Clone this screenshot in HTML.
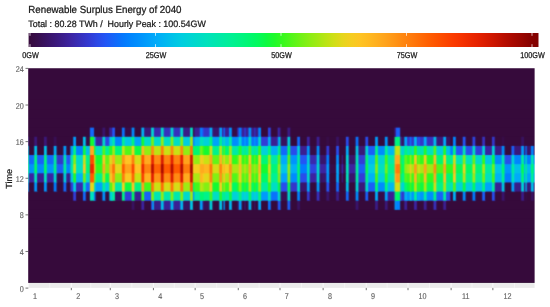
<!DOCTYPE html>
<html lang="en"><head><meta charset="utf-8"><title>Renewable Surplus Energy of 2040</title>
<style>html,body{margin:0;padding:0;background:#fff}body{width:550px;height:307px;overflow:hidden}svg{display:block}text{font-family:"Liberation Sans",Arial,Helvetica,sans-serif;text-rendering:geometricPrecision}</style></head><body>
<svg width="550" height="307" viewBox="0 0 550 307">
<defs><linearGradient id="tb" x1="0" x2="1" y1="0" y2="0">
<stop offset="0.000" stop-color="#360a3b"/>
<stop offset="0.017" stop-color="#370e4c"/>
<stop offset="0.033" stop-color="#381261"/>
<stop offset="0.050" stop-color="#3a1776"/>
<stop offset="0.067" stop-color="#3b1d8c"/>
<stop offset="0.083" stop-color="#3c24a3"/>
<stop offset="0.100" stop-color="#372fba"/>
<stop offset="0.117" stop-color="#3339d1"/>
<stop offset="0.133" stop-color="#2c47e4"/>
<stop offset="0.150" stop-color="#2355f5"/>
<stop offset="0.167" stop-color="#1566f9"/>
<stop offset="0.183" stop-color="#0676fd"/>
<stop offset="0.200" stop-color="#0085fe"/>
<stop offset="0.217" stop-color="#0091fd"/>
<stop offset="0.233" stop-color="#009efb"/>
<stop offset="0.250" stop-color="#00abf9"/>
<stop offset="0.267" stop-color="#00b7f1"/>
<stop offset="0.283" stop-color="#00c3e8"/>
<stop offset="0.300" stop-color="#00cee0"/>
<stop offset="0.317" stop-color="#00d5d4"/>
<stop offset="0.333" stop-color="#00dbc8"/>
<stop offset="0.350" stop-color="#00e2bc"/>
<stop offset="0.367" stop-color="#00e7ae"/>
<stop offset="0.383" stop-color="#00eca1"/>
<stop offset="0.400" stop-color="#00f192"/>
<stop offset="0.417" stop-color="#00f482"/>
<stop offset="0.433" stop-color="#00f771"/>
<stop offset="0.450" stop-color="#03fa5d"/>
<stop offset="0.467" stop-color="#0efa41"/>
<stop offset="0.483" stop-color="#20fa2a"/>
<stop offset="0.500" stop-color="#3af91d"/>
<stop offset="0.517" stop-color="#55f61a"/>
<stop offset="0.533" stop-color="#70f216"/>
<stop offset="0.550" stop-color="#8aee14"/>
<stop offset="0.567" stop-color="#a2e914"/>
<stop offset="0.583" stop-color="#bae414"/>
<stop offset="0.600" stop-color="#d1de16"/>
<stop offset="0.617" stop-color="#e7d51c"/>
<stop offset="0.633" stop-color="#f5cd20"/>
<stop offset="0.650" stop-color="#fec423"/>
<stop offset="0.667" stop-color="#ffba21"/>
<stop offset="0.683" stop-color="#ffaf1f"/>
<stop offset="0.700" stop-color="#ffa31c"/>
<stop offset="0.717" stop-color="#ff9616"/>
<stop offset="0.733" stop-color="#ff8811"/>
<stop offset="0.750" stop-color="#ff7b0c"/>
<stop offset="0.767" stop-color="#ff6d07"/>
<stop offset="0.783" stop-color="#ff6002"/>
<stop offset="0.800" stop-color="#fe5300"/>
<stop offset="0.817" stop-color="#fc4700"/>
<stop offset="0.833" stop-color="#fb3b00"/>
<stop offset="0.850" stop-color="#f53200"/>
<stop offset="0.867" stop-color="#ec2900"/>
<stop offset="0.883" stop-color="#e42100"/>
<stop offset="0.900" stop-color="#d71a00"/>
<stop offset="0.917" stop-color="#c81400"/>
<stop offset="0.933" stop-color="#b80e00"/>
<stop offset="0.950" stop-color="#a90900"/>
<stop offset="0.967" stop-color="#990600"/>
<stop offset="0.983" stop-color="#890200"/>
<stop offset="1.000" stop-color="#800000"/>
</linearGradient>
<clipPath id="pc"><rect x="28.20" y="68.26" width="506.40" height="219.64"/></clipPath>
<filter id="bl" x="-2%" y="-5%" width="104%" height="110%" color-interpolation-filters="sRGB"><feConvolveMatrix order="3" kernelMatrix="0.03000 0.09000 0.03000 0.14000 0.42000 0.14000 0.03000 0.09000 0.03000" edgeMode="duplicate" preserveAlpha="true"/></filter>
</defs>
<rect width="550" height="307" fill="#fff"/>
<text transform="translate(28.30 12.50) scale(0.0974 0.1023)" font-size="100" fill="#161616" stroke="#161616" stroke-width="2.3">Renewable Surplus Energy of 2040</text>
<text transform="translate(28.30 27.20) scale(0.0888 0.0932)" font-size="100" fill="#161616" stroke="#161616" stroke-width="2.5" xml:space="preserve">Total : 80.28 TWh /  Hourly Peak : 100.54GW</text>
<rect x="28.60" y="33.00" width="509.90" height="14.00" fill="url(#tb)"/>
<path d="M30.00 33.00v2.8M30.00 47.00v-2.8" stroke="#fff" stroke-width="0.7" fill="none"/>
<text transform="translate(30.50 58.40) scale(0.0718 0.0840)" font-size="100" fill="#161616" text-anchor="middle" stroke="#161616" stroke-width="3.1">0GW</text>
<path d="M155.50 33.00v2.8M155.50 47.00v-2.8" stroke="#fff" stroke-width="0.7" fill="none"/>
<text transform="translate(156.00 58.40) scale(0.0718 0.0840)" font-size="100" fill="#161616" text-anchor="middle" stroke="#161616" stroke-width="3.1">25GW</text>
<path d="M281.00 33.00v2.8M281.00 47.00v-2.8" stroke="#fff" stroke-width="0.7" fill="none"/>
<text transform="translate(281.50 58.40) scale(0.0718 0.0840)" font-size="100" fill="#161616" text-anchor="middle" stroke="#161616" stroke-width="3.1">50GW</text>
<path d="M406.50 33.00v2.8M406.50 47.00v-2.8" stroke="#fff" stroke-width="0.7" fill="none"/>
<text transform="translate(407.00 58.40) scale(0.0718 0.0840)" font-size="100" fill="#161616" text-anchor="middle" stroke="#161616" stroke-width="3.1">75GW</text>
<path d="M532.00 33.00v2.8M532.00 47.00v-2.8" stroke="#fff" stroke-width="0.7" fill="none"/>
<text transform="translate(532.50 58.40) scale(0.0718 0.0840)" font-size="100" fill="#161616" text-anchor="middle" stroke="#161616" stroke-width="3.1">100GW</text>
<rect x="28.20" y="68.26" width="506.40" height="219.64" fill="#ebebeb"/>
<path d="M28.20 68.26V287.90M71.33 68.26V287.90M110.28 68.26V287.90M153.41 68.26V287.90M195.15 68.26V287.90M238.27 68.26V287.90M280.01 68.26V287.90M323.14 68.26V287.90M366.26 68.26V287.90M408.00 68.26V287.90M451.13 68.26V287.90M492.86 68.26V287.90" stroke="#fff" stroke-width="0.7" fill="none"/>
<path d="M49.76 68.26V287.90M90.80 68.26V287.90M131.85 68.26V287.90M174.28 68.26V287.90M216.71 68.26V287.90M259.14 68.26V287.90M301.57 68.26V287.90M344.70 68.26V287.90M387.13 68.26V287.90M429.56 68.26V287.90M472.00 68.26V287.90M514.43 68.26V287.90" stroke="#fff" stroke-width="0.45" fill="none"/>
<g clip-path="url(#pc)"><g filter="url(#bl)">
<rect x="25.20" y="65.26" width="512.40" height="217.63" fill="#360a3b"/>
<rect x="24.30" y="227.39" width="514.59" height="9.83" fill="#360a3b"/>
<rect x="24.30" y="218.25" width="514.59" height="9.83" fill="#360a3b"/>
<rect x="24.30" y="209.12" width="514.59" height="9.83" fill="#360a3b"/>
<rect x="24.30" y="199.99" width="108.14" height="9.83" fill="#360a3b"/>
<rect x="131.65" y="199.99" width="3.58" height="9.83" fill="#381260"/>
<rect x="134.43" y="199.99" width="7.76" height="9.83" fill="#360a3b"/>
<rect x="141.38" y="199.99" width="3.58" height="9.83" fill="#3c23a0"/>
<rect x="144.17" y="199.99" width="7.76" height="9.83" fill="#360a3b"/>
<rect x="151.12" y="199.99" width="2.19" height="9.83" fill="#284deb"/>
<rect x="152.51" y="199.99" width="2.19" height="9.83" fill="#00b1f5"/>
<rect x="153.90" y="199.99" width="7.76" height="9.83" fill="#3a1c86"/>
<rect x="160.86" y="199.99" width="3.58" height="9.83" fill="#00bfeb"/>
<rect x="163.64" y="199.99" width="7.76" height="9.83" fill="#3b1f93"/>
<rect x="170.60" y="199.99" width="3.58" height="9.83" fill="#00b8f0"/>
<rect x="173.38" y="199.99" width="7.76" height="9.83" fill="#3b1f93"/>
<rect x="180.34" y="199.99" width="3.58" height="9.83" fill="#00b8f0"/>
<rect x="183.12" y="199.99" width="7.76" height="9.83" fill="#381260"/>
<rect x="190.08" y="199.99" width="3.58" height="9.83" fill="#00c6e6"/>
<rect x="192.86" y="199.99" width="7.76" height="9.83" fill="#360a3b"/>
<rect x="199.81" y="199.99" width="3.58" height="9.83" fill="#00a2fb"/>
<rect x="202.60" y="199.99" width="2.19" height="9.83" fill="#39146c"/>
<rect x="203.99" y="199.99" width="6.36" height="9.83" fill="#380f54"/>
<rect x="209.55" y="199.99" width="3.58" height="9.83" fill="#00d1da"/>
<rect x="212.34" y="199.99" width="7.76" height="9.83" fill="#360a3b"/>
<rect x="219.29" y="199.99" width="3.58" height="9.83" fill="#00c6e6"/>
<rect x="222.07" y="199.99" width="2.19" height="9.83" fill="#360a3b"/>
<rect x="223.46" y="199.99" width="2.19" height="9.83" fill="#0094fc"/>
<rect x="224.86" y="199.99" width="4.97" height="9.83" fill="#360a3b"/>
<rect x="229.03" y="199.99" width="3.58" height="9.83" fill="#00b8f0"/>
<rect x="231.81" y="199.99" width="6.36" height="9.83" fill="#360a3b"/>
<rect x="237.38" y="199.99" width="2.19" height="9.83" fill="#381260"/>
<rect x="238.77" y="199.99" width="3.58" height="9.83" fill="#00a2fb"/>
<rect x="241.55" y="199.99" width="3.58" height="9.83" fill="#360a3b"/>
<rect x="244.33" y="199.99" width="2.19" height="9.83" fill="#39146c"/>
<rect x="245.72" y="199.99" width="3.58" height="9.83" fill="#360a3b"/>
<rect x="248.51" y="199.99" width="3.58" height="9.83" fill="#00b8f0"/>
<rect x="251.29" y="199.99" width="3.58" height="9.83" fill="#360a3b"/>
<rect x="254.07" y="199.99" width="2.19" height="9.83" fill="#381260"/>
<rect x="255.46" y="199.99" width="3.58" height="9.83" fill="#360a3b"/>
<rect x="258.25" y="199.99" width="3.58" height="9.83" fill="#00aafa"/>
<rect x="261.03" y="199.99" width="7.76" height="9.83" fill="#360a3b"/>
<rect x="267.98" y="199.99" width="3.58" height="9.83" fill="#0973fc"/>
<rect x="270.77" y="199.99" width="7.76" height="9.83" fill="#360a3b"/>
<rect x="277.72" y="199.99" width="2.19" height="9.83" fill="#284deb"/>
<rect x="279.11" y="199.99" width="2.19" height="9.83" fill="#1269fa"/>
<rect x="280.50" y="199.99" width="7.76" height="9.83" fill="#360a3b"/>
<rect x="287.46" y="199.99" width="3.58" height="9.83" fill="#1a5ff8"/>
<rect x="290.24" y="199.99" width="7.76" height="9.83" fill="#360a3b"/>
<rect x="297.20" y="199.99" width="3.58" height="9.83" fill="#381260"/>
<rect x="299.98" y="199.99" width="56.45" height="9.83" fill="#360a3b"/>
<rect x="355.63" y="199.99" width="3.58" height="9.83" fill="#39146c"/>
<rect x="358.41" y="199.99" width="17.49" height="9.83" fill="#360a3b"/>
<rect x="375.11" y="199.99" width="3.58" height="9.83" fill="#3a1c86"/>
<rect x="377.89" y="199.99" width="7.76" height="9.83" fill="#360a3b"/>
<rect x="384.85" y="199.99" width="3.58" height="9.83" fill="#3a1879"/>
<rect x="387.63" y="199.99" width="7.76" height="9.83" fill="#360a3b"/>
<rect x="394.58" y="199.99" width="2.19" height="9.83" fill="#009bfc"/>
<rect x="395.97" y="199.99" width="4.97" height="9.83" fill="#0084fe"/>
<rect x="400.15" y="199.99" width="4.97" height="9.83" fill="#360a3b"/>
<rect x="404.32" y="199.99" width="3.58" height="9.83" fill="#3b1f93"/>
<rect x="407.10" y="199.99" width="7.76" height="9.83" fill="#360a3b"/>
<rect x="414.06" y="199.99" width="3.58" height="9.83" fill="#3c23a0"/>
<rect x="416.84" y="199.99" width="7.76" height="9.83" fill="#360a3b"/>
<rect x="423.80" y="199.99" width="3.58" height="9.83" fill="#3b1f93"/>
<rect x="426.58" y="199.99" width="7.76" height="9.83" fill="#360a3b"/>
<rect x="433.54" y="199.99" width="3.58" height="9.83" fill="#3730bc"/>
<rect x="436.32" y="199.99" width="7.76" height="9.83" fill="#360a3b"/>
<rect x="443.28" y="199.99" width="3.58" height="9.83" fill="#3b1f93"/>
<rect x="446.06" y="199.99" width="92.84" height="9.83" fill="#360a3b"/>
<rect x="24.30" y="190.85" width="49.71" height="9.83" fill="#360a3b"/>
<rect x="73.21" y="190.85" width="3.58" height="9.83" fill="#323cd7"/>
<rect x="76.00" y="190.85" width="7.76" height="9.83" fill="#360a3b"/>
<rect x="82.95" y="190.85" width="3.58" height="9.83" fill="#1269fa"/>
<rect x="85.74" y="190.85" width="4.97" height="9.83" fill="#360a3b"/>
<rect x="89.91" y="190.85" width="4.97" height="9.83" fill="#00e1be"/>
<rect x="94.08" y="190.85" width="2.19" height="9.83" fill="#0973fc"/>
<rect x="95.47" y="190.85" width="7.76" height="9.83" fill="#360a3b"/>
<rect x="102.43" y="190.85" width="3.58" height="9.83" fill="#0094fc"/>
<rect x="105.21" y="190.85" width="4.97" height="9.83" fill="#360a3b"/>
<rect x="109.39" y="190.85" width="2.19" height="9.83" fill="#00d5d3"/>
<rect x="110.78" y="190.85" width="2.19" height="9.83" fill="#00cde1"/>
<rect x="112.17" y="190.85" width="3.58" height="9.83" fill="#00ed9e"/>
<rect x="114.95" y="190.85" width="7.76" height="9.83" fill="#381260"/>
<rect x="121.91" y="190.85" width="3.58" height="9.83" fill="#00f482"/>
<rect x="124.69" y="190.85" width="7.76" height="9.83" fill="#323cd7"/>
<rect x="131.65" y="190.85" width="3.58" height="9.83" fill="#00fa64"/>
<rect x="134.43" y="190.85" width="7.76" height="9.83" fill="#3b1f93"/>
<rect x="141.38" y="190.85" width="3.58" height="9.83" fill="#32fa1e"/>
<rect x="144.17" y="190.85" width="7.76" height="9.83" fill="#1a5ff8"/>
<rect x="151.12" y="190.85" width="2.19" height="9.83" fill="#90ed14"/>
<rect x="152.51" y="190.85" width="2.19" height="9.83" fill="#72f216"/>
<rect x="153.90" y="190.85" width="7.76" height="9.83" fill="#00e4b6"/>
<rect x="160.86" y="190.85" width="3.58" height="9.83" fill="#90ed14"/>
<rect x="163.64" y="190.85" width="7.76" height="9.83" fill="#00e7ae"/>
<rect x="170.60" y="190.85" width="3.58" height="9.83" fill="#82f014"/>
<rect x="173.38" y="190.85" width="7.76" height="9.83" fill="#00e7ae"/>
<rect x="180.34" y="190.85" width="3.58" height="9.83" fill="#82f014"/>
<rect x="183.12" y="190.85" width="7.76" height="9.83" fill="#00d9cc"/>
<rect x="190.08" y="190.85" width="3.58" height="9.83" fill="#9eea14"/>
<rect x="192.86" y="190.85" width="2.19" height="9.83" fill="#008cfd"/>
<rect x="194.25" y="190.85" width="6.36" height="9.83" fill="#00e7ae"/>
<rect x="199.81" y="190.85" width="3.58" height="9.83" fill="#00f86e"/>
<rect x="202.60" y="190.85" width="2.19" height="9.83" fill="#00f678"/>
<rect x="203.99" y="190.85" width="6.36" height="9.83" fill="#00f28c"/>
<rect x="209.55" y="190.85" width="3.58" height="9.83" fill="#42f81c"/>
<rect x="212.34" y="190.85" width="7.76" height="9.83" fill="#00ddc5"/>
<rect x="219.29" y="190.85" width="3.58" height="9.83" fill="#23fa28"/>
<rect x="222.07" y="190.85" width="2.19" height="9.83" fill="#00e7ae"/>
<rect x="223.46" y="190.85" width="2.19" height="9.83" fill="#00f482"/>
<rect x="224.86" y="190.85" width="4.97" height="9.83" fill="#00e7ae"/>
<rect x="229.03" y="190.85" width="3.58" height="9.83" fill="#0dfa43"/>
<rect x="231.81" y="190.85" width="6.36" height="9.83" fill="#00d1da"/>
<rect x="237.38" y="190.85" width="2.19" height="9.83" fill="#00d9cc"/>
<rect x="238.77" y="190.85" width="3.58" height="9.83" fill="#00f482"/>
<rect x="241.55" y="190.85" width="3.58" height="9.83" fill="#00cde1"/>
<rect x="244.33" y="190.85" width="2.19" height="9.83" fill="#00ddc5"/>
<rect x="245.72" y="190.85" width="3.58" height="9.83" fill="#00cde1"/>
<rect x="248.51" y="190.85" width="3.58" height="9.83" fill="#00fa64"/>
<rect x="251.29" y="190.85" width="3.58" height="9.83" fill="#00c6e6"/>
<rect x="254.07" y="190.85" width="2.19" height="9.83" fill="#00d9cc"/>
<rect x="255.46" y="190.85" width="3.58" height="9.83" fill="#00c6e6"/>
<rect x="258.25" y="190.85" width="3.58" height="9.83" fill="#00f678"/>
<rect x="261.03" y="190.85" width="7.76" height="9.83" fill="#009bfc"/>
<rect x="267.98" y="190.85" width="3.58" height="9.83" fill="#00e4b6"/>
<rect x="270.77" y="190.85" width="7.76" height="9.83" fill="#0973fc"/>
<rect x="277.72" y="190.85" width="2.19" height="9.83" fill="#00d5d3"/>
<rect x="279.11" y="190.85" width="2.19" height="9.83" fill="#00ddc5"/>
<rect x="280.50" y="190.85" width="7.76" height="9.83" fill="#380f54"/>
<rect x="287.46" y="190.85" width="3.58" height="9.83" fill="#00d9cc"/>
<rect x="290.24" y="190.85" width="7.76" height="9.83" fill="#360a3b"/>
<rect x="297.20" y="190.85" width="3.58" height="9.83" fill="#0084fe"/>
<rect x="299.98" y="190.85" width="7.76" height="9.83" fill="#360a3b"/>
<rect x="306.94" y="190.85" width="3.58" height="9.83" fill="#3436c9"/>
<rect x="309.72" y="190.85" width="7.76" height="9.83" fill="#360a3b"/>
<rect x="316.68" y="190.85" width="3.58" height="9.83" fill="#3730bc"/>
<rect x="319.46" y="190.85" width="7.76" height="9.83" fill="#360a3b"/>
<rect x="326.41" y="190.85" width="3.58" height="9.83" fill="#39146c"/>
<rect x="329.20" y="190.85" width="7.76" height="9.83" fill="#360a3b"/>
<rect x="336.15" y="190.85" width="3.58" height="9.83" fill="#3a1c86"/>
<rect x="338.94" y="190.85" width="7.76" height="9.83" fill="#360a3b"/>
<rect x="345.89" y="190.85" width="3.58" height="9.83" fill="#1269fa"/>
<rect x="348.67" y="190.85" width="7.76" height="9.83" fill="#360a3b"/>
<rect x="355.63" y="190.85" width="3.58" height="9.83" fill="#008cfd"/>
<rect x="358.41" y="190.85" width="7.76" height="9.83" fill="#360a3b"/>
<rect x="365.37" y="190.85" width="3.58" height="9.83" fill="#1a5ff8"/>
<rect x="368.15" y="190.85" width="7.76" height="9.83" fill="#360a3b"/>
<rect x="375.11" y="190.85" width="3.58" height="9.83" fill="#00aafa"/>
<rect x="377.89" y="190.85" width="7.76" height="9.83" fill="#370c47"/>
<rect x="384.85" y="190.85" width="3.58" height="9.83" fill="#00a2fb"/>
<rect x="387.63" y="190.85" width="7.76" height="9.83" fill="#3b1f93"/>
<rect x="394.58" y="190.85" width="2.19" height="9.83" fill="#00f482"/>
<rect x="395.97" y="190.85" width="4.97" height="9.83" fill="#00fa64"/>
<rect x="400.15" y="190.85" width="2.19" height="9.83" fill="#1a5ff8"/>
<rect x="401.54" y="190.85" width="3.58" height="9.83" fill="#3436c9"/>
<rect x="404.32" y="190.85" width="3.58" height="9.83" fill="#00b1f5"/>
<rect x="407.10" y="190.85" width="3.58" height="9.83" fill="#0094fc"/>
<rect x="409.89" y="190.85" width="2.19" height="9.83" fill="#00d1da"/>
<rect x="411.28" y="190.85" width="3.58" height="9.83" fill="#0094fc"/>
<rect x="414.06" y="190.85" width="3.58" height="9.83" fill="#00ed9e"/>
<rect x="416.84" y="190.85" width="2.19" height="9.83" fill="#0094fc"/>
<rect x="418.23" y="190.85" width="2.19" height="9.83" fill="#00b1f5"/>
<rect x="419.63" y="190.85" width="4.97" height="9.83" fill="#0094fc"/>
<rect x="423.80" y="190.85" width="3.58" height="9.83" fill="#00eaa6"/>
<rect x="426.58" y="190.85" width="7.76" height="9.83" fill="#008cfd"/>
<rect x="433.54" y="190.85" width="3.58" height="9.83" fill="#00f28c"/>
<rect x="436.32" y="190.85" width="7.76" height="9.83" fill="#1a5ff8"/>
<rect x="443.28" y="190.85" width="3.58" height="9.83" fill="#00eaa6"/>
<rect x="446.06" y="190.85" width="4.97" height="9.83" fill="#284deb"/>
<rect x="450.23" y="190.85" width="3.58" height="9.83" fill="#360a3b"/>
<rect x="453.01" y="190.85" width="3.58" height="9.83" fill="#00b1f5"/>
<rect x="455.80" y="190.85" width="7.76" height="9.83" fill="#360a3b"/>
<rect x="462.75" y="190.85" width="3.58" height="9.83" fill="#008cfd"/>
<rect x="465.54" y="190.85" width="7.76" height="9.83" fill="#360a3b"/>
<rect x="472.49" y="190.85" width="3.58" height="9.83" fill="#007dff"/>
<rect x="475.27" y="190.85" width="7.76" height="9.83" fill="#360a3b"/>
<rect x="482.23" y="190.85" width="3.58" height="9.83" fill="#1a5ff8"/>
<rect x="485.01" y="190.85" width="7.76" height="9.83" fill="#360a3b"/>
<rect x="491.97" y="190.85" width="3.58" height="9.83" fill="#284deb"/>
<rect x="494.75" y="190.85" width="7.76" height="9.83" fill="#360a3b"/>
<rect x="501.71" y="190.85" width="3.58" height="9.83" fill="#39146c"/>
<rect x="504.49" y="190.85" width="17.49" height="9.83" fill="#360a3b"/>
<rect x="521.18" y="190.85" width="3.58" height="9.83" fill="#3a1c86"/>
<rect x="523.97" y="190.85" width="2.19" height="9.83" fill="#360a3b"/>
<rect x="525.36" y="190.85" width="2.19" height="9.83" fill="#370c47"/>
<rect x="526.75" y="190.85" width="4.97" height="9.83" fill="#360a3b"/>
<rect x="530.92" y="190.85" width="3.58" height="9.83" fill="#381260"/>
<rect x="533.70" y="190.85" width="5.19" height="9.83" fill="#360a3b"/>
<rect x="24.30" y="181.72" width="5.19" height="9.83" fill="#0094fc"/>
<rect x="28.70" y="181.72" width="6.36" height="9.83" fill="#360a3b"/>
<rect x="34.26" y="181.72" width="3.58" height="9.83" fill="#0094fc"/>
<rect x="37.04" y="181.72" width="7.76" height="9.83" fill="#360a3b"/>
<rect x="44.00" y="181.72" width="3.58" height="9.83" fill="#0094fc"/>
<rect x="46.78" y="181.72" width="7.76" height="9.83" fill="#360a3b"/>
<rect x="53.74" y="181.72" width="3.58" height="9.83" fill="#007dff"/>
<rect x="56.52" y="181.72" width="7.76" height="9.83" fill="#360a3b"/>
<rect x="63.48" y="181.72" width="3.58" height="9.83" fill="#1269fa"/>
<rect x="66.26" y="181.72" width="4.97" height="9.83" fill="#360a3b"/>
<rect x="70.43" y="181.72" width="3.58" height="9.83" fill="#323cd7"/>
<rect x="73.21" y="181.72" width="3.58" height="9.83" fill="#00cde1"/>
<rect x="76.00" y="181.72" width="7.76" height="9.83" fill="#3a29ae"/>
<rect x="82.95" y="181.72" width="3.58" height="9.83" fill="#00e1be"/>
<rect x="85.74" y="181.72" width="4.97" height="9.83" fill="#1269fa"/>
<rect x="89.91" y="181.72" width="4.97" height="9.83" fill="#e3d71b"/>
<rect x="94.08" y="181.72" width="2.19" height="9.83" fill="#00e4b6"/>
<rect x="95.47" y="181.72" width="7.76" height="9.83" fill="#00a2fb"/>
<rect x="102.43" y="181.72" width="3.58" height="9.83" fill="#00f096"/>
<rect x="105.21" y="181.72" width="4.97" height="9.83" fill="#00c6e6"/>
<rect x="109.39" y="181.72" width="2.19" height="9.83" fill="#62f418"/>
<rect x="110.78" y="181.72" width="2.19" height="9.83" fill="#42f81c"/>
<rect x="112.17" y="181.72" width="3.58" height="9.83" fill="#c8e114"/>
<rect x="114.95" y="181.72" width="7.76" height="9.83" fill="#00eaa6"/>
<rect x="121.91" y="181.72" width="3.58" height="9.83" fill="#f0d21e"/>
<rect x="124.69" y="181.72" width="7.76" height="9.83" fill="#0dfa43"/>
<rect x="131.65" y="181.72" width="3.58" height="9.83" fill="#ffc323"/>
<rect x="134.43" y="181.72" width="7.76" height="9.83" fill="#00f482"/>
<rect x="141.38" y="181.72" width="3.58" height="9.83" fill="#ffa21b"/>
<rect x="144.17" y="181.72" width="7.76" height="9.83" fill="#42f81c"/>
<rect x="151.12" y="181.72" width="2.19" height="9.83" fill="#ff7209"/>
<rect x="152.51" y="181.72" width="2.19" height="9.83" fill="#ff7a0c"/>
<rect x="153.90" y="181.72" width="7.76" height="9.83" fill="#c8e114"/>
<rect x="160.86" y="181.72" width="3.58" height="9.83" fill="#ff6a06"/>
<rect x="163.64" y="181.72" width="7.76" height="9.83" fill="#d5dc17"/>
<rect x="170.60" y="181.72" width="3.58" height="9.83" fill="#ff7209"/>
<rect x="173.38" y="181.72" width="7.76" height="9.83" fill="#d5dc17"/>
<rect x="180.34" y="181.72" width="3.58" height="9.83" fill="#ff7209"/>
<rect x="183.12" y="181.72" width="7.76" height="9.83" fill="#9eea14"/>
<rect x="190.08" y="181.72" width="3.58" height="9.83" fill="#ff6203"/>
<rect x="192.86" y="181.72" width="2.19" height="9.83" fill="#00fa64"/>
<rect x="194.25" y="181.72" width="6.36" height="9.83" fill="#42f81c"/>
<rect x="199.81" y="181.72" width="3.58" height="9.83" fill="#bae414"/>
<rect x="202.60" y="181.72" width="2.19" height="9.83" fill="#9eea14"/>
<rect x="203.99" y="181.72" width="6.36" height="9.83" fill="#82f014"/>
<rect x="209.55" y="181.72" width="3.58" height="9.83" fill="#ffc323"/>
<rect x="212.34" y="181.72" width="7.76" height="9.83" fill="#14fa32"/>
<rect x="219.29" y="181.72" width="3.58" height="9.83" fill="#f5cd20"/>
<rect x="222.07" y="181.72" width="2.19" height="9.83" fill="#42f81c"/>
<rect x="223.46" y="181.72" width="2.19" height="9.83" fill="#9eea14"/>
<rect x="224.86" y="181.72" width="4.97" height="9.83" fill="#42f81c"/>
<rect x="229.03" y="181.72" width="3.58" height="9.83" fill="#e3d71b"/>
<rect x="231.81" y="181.72" width="6.36" height="9.83" fill="#00fa64"/>
<rect x="237.38" y="181.72" width="2.19" height="9.83" fill="#23fa28"/>
<rect x="238.77" y="181.72" width="3.58" height="9.83" fill="#90ed14"/>
<rect x="241.55" y="181.72" width="3.58" height="9.83" fill="#07fa53"/>
<rect x="244.33" y="181.72" width="2.19" height="9.83" fill="#32fa1e"/>
<rect x="245.72" y="181.72" width="3.58" height="9.83" fill="#07fa53"/>
<rect x="248.51" y="181.72" width="3.58" height="9.83" fill="#bae414"/>
<rect x="251.29" y="181.72" width="3.58" height="9.83" fill="#00fa64"/>
<rect x="254.07" y="181.72" width="2.19" height="9.83" fill="#23fa28"/>
<rect x="255.46" y="181.72" width="3.58" height="9.83" fill="#00fa64"/>
<rect x="258.25" y="181.72" width="3.58" height="9.83" fill="#9eea14"/>
<rect x="261.03" y="181.72" width="7.76" height="9.83" fill="#00ed9e"/>
<rect x="267.98" y="181.72" width="3.58" height="9.83" fill="#32fa1e"/>
<rect x="270.77" y="181.72" width="7.76" height="9.83" fill="#00ddc5"/>
<rect x="277.72" y="181.72" width="2.19" height="9.83" fill="#07fa53"/>
<rect x="279.11" y="181.72" width="2.19" height="9.83" fill="#0dfa43"/>
<rect x="280.50" y="181.72" width="7.76" height="9.83" fill="#284deb"/>
<rect x="287.46" y="181.72" width="3.58" height="9.83" fill="#07fa53"/>
<rect x="290.24" y="181.72" width="7.76" height="9.83" fill="#3436c9"/>
<rect x="297.20" y="181.72" width="3.58" height="9.83" fill="#00d9cc"/>
<rect x="299.98" y="181.72" width="7.76" height="9.83" fill="#39146c"/>
<rect x="306.94" y="181.72" width="3.58" height="9.83" fill="#00a2fb"/>
<rect x="309.72" y="181.72" width="7.76" height="9.83" fill="#360a3b"/>
<rect x="316.68" y="181.72" width="3.58" height="9.83" fill="#009bfc"/>
<rect x="319.46" y="181.72" width="7.76" height="9.83" fill="#360a3b"/>
<rect x="326.41" y="181.72" width="3.58" height="9.83" fill="#2355f5"/>
<rect x="329.20" y="181.72" width="7.76" height="9.83" fill="#360a3b"/>
<rect x="336.15" y="181.72" width="3.58" height="9.83" fill="#1269fa"/>
<rect x="338.94" y="181.72" width="7.76" height="9.83" fill="#360a3b"/>
<rect x="345.89" y="181.72" width="3.58" height="9.83" fill="#00bfeb"/>
<rect x="348.67" y="181.72" width="7.76" height="9.83" fill="#360a3b"/>
<rect x="355.63" y="181.72" width="3.58" height="9.83" fill="#00d5d3"/>
<rect x="358.41" y="181.72" width="7.76" height="9.83" fill="#3a1879"/>
<rect x="365.37" y="181.72" width="3.58" height="9.83" fill="#00ddc5"/>
<rect x="368.15" y="181.72" width="7.76" height="9.83" fill="#1a5ff8"/>
<rect x="375.11" y="181.72" width="3.58" height="9.83" fill="#00f678"/>
<rect x="377.89" y="181.72" width="7.76" height="9.83" fill="#008cfd"/>
<rect x="384.85" y="181.72" width="3.58" height="9.83" fill="#00f482"/>
<rect x="387.63" y="181.72" width="7.76" height="9.83" fill="#00b8f0"/>
<rect x="394.58" y="181.72" width="2.19" height="9.83" fill="#c8e114"/>
<rect x="395.97" y="181.72" width="4.97" height="9.83" fill="#d5dc17"/>
<rect x="400.15" y="181.72" width="2.19" height="9.83" fill="#00e4b6"/>
<rect x="401.54" y="181.72" width="3.58" height="9.83" fill="#00d1da"/>
<rect x="404.32" y="181.72" width="3.58" height="9.83" fill="#00f86e"/>
<rect x="407.10" y="181.72" width="3.58" height="9.83" fill="#0dfa43"/>
<rect x="409.89" y="181.72" width="2.19" height="9.83" fill="#42f81c"/>
<rect x="411.28" y="181.72" width="3.58" height="9.83" fill="#0dfa43"/>
<rect x="414.06" y="181.72" width="3.58" height="9.83" fill="#bae414"/>
<rect x="416.84" y="181.72" width="2.19" height="9.83" fill="#0dfa43"/>
<rect x="418.23" y="181.72" width="2.19" height="9.83" fill="#42f81c"/>
<rect x="419.63" y="181.72" width="4.97" height="9.83" fill="#0dfa43"/>
<rect x="423.80" y="181.72" width="3.58" height="9.83" fill="#ace714"/>
<rect x="426.58" y="181.72" width="7.76" height="9.83" fill="#07fa53"/>
<rect x="433.54" y="181.72" width="3.58" height="9.83" fill="#d5dc17"/>
<rect x="436.32" y="181.72" width="7.76" height="9.83" fill="#00f28c"/>
<rect x="443.28" y="181.72" width="3.58" height="9.83" fill="#ace714"/>
<rect x="446.06" y="181.72" width="4.97" height="9.83" fill="#00ed9e"/>
<rect x="450.23" y="181.72" width="3.58" height="9.83" fill="#00e1be"/>
<rect x="453.01" y="181.72" width="3.58" height="9.83" fill="#52f61a"/>
<rect x="455.80" y="181.72" width="7.76" height="9.83" fill="#00d1da"/>
<rect x="462.75" y="181.72" width="3.58" height="9.83" fill="#0dfa43"/>
<rect x="465.54" y="181.72" width="7.76" height="9.83" fill="#00cde1"/>
<rect x="472.49" y="181.72" width="3.58" height="9.83" fill="#00fa64"/>
<rect x="475.27" y="181.72" width="7.76" height="9.83" fill="#00bfeb"/>
<rect x="482.23" y="181.72" width="3.58" height="9.83" fill="#00f482"/>
<rect x="485.01" y="181.72" width="7.76" height="9.83" fill="#00a2fb"/>
<rect x="491.97" y="181.72" width="3.58" height="9.83" fill="#00ed9e"/>
<rect x="494.75" y="181.72" width="7.76" height="9.83" fill="#3b1f93"/>
<rect x="501.71" y="181.72" width="3.58" height="9.83" fill="#00c6e6"/>
<rect x="504.49" y="181.72" width="7.76" height="9.83" fill="#360a3b"/>
<rect x="511.45" y="181.72" width="3.58" height="9.83" fill="#00a2fb"/>
<rect x="514.23" y="181.72" width="7.76" height="9.83" fill="#3a1c86"/>
<rect x="521.18" y="181.72" width="3.58" height="9.83" fill="#00d1da"/>
<rect x="523.97" y="181.72" width="2.19" height="9.83" fill="#3a1879"/>
<rect x="525.36" y="181.72" width="2.19" height="9.83" fill="#00b1f5"/>
<rect x="526.75" y="181.72" width="4.97" height="9.83" fill="#3a1879"/>
<rect x="530.92" y="181.72" width="3.58" height="9.83" fill="#00bfeb"/>
<rect x="533.70" y="181.72" width="5.19" height="9.83" fill="#3a1879"/>
<rect x="24.30" y="172.59" width="5.19" height="9.83" fill="#00e1be"/>
<rect x="28.70" y="172.59" width="6.36" height="9.83" fill="#3c23a0"/>
<rect x="34.26" y="172.59" width="3.58" height="9.83" fill="#00e1be"/>
<rect x="37.04" y="172.59" width="7.76" height="9.83" fill="#3b1f93"/>
<rect x="44.00" y="172.59" width="3.58" height="9.83" fill="#00e1be"/>
<rect x="46.78" y="172.59" width="7.76" height="9.83" fill="#3c23a0"/>
<rect x="53.74" y="172.59" width="3.58" height="9.83" fill="#00d5d3"/>
<rect x="56.52" y="172.59" width="7.76" height="9.83" fill="#380f54"/>
<rect x="63.48" y="172.59" width="3.58" height="9.83" fill="#00cde1"/>
<rect x="66.26" y="172.59" width="4.97" height="9.83" fill="#3a1c86"/>
<rect x="70.43" y="172.59" width="3.58" height="9.83" fill="#00c6e6"/>
<rect x="73.21" y="172.59" width="3.58" height="9.83" fill="#23fa28"/>
<rect x="76.00" y="172.59" width="7.76" height="9.83" fill="#00b1f5"/>
<rect x="82.95" y="172.59" width="3.58" height="9.83" fill="#72f216"/>
<rect x="85.74" y="172.59" width="4.97" height="9.83" fill="#00ddc5"/>
<rect x="89.91" y="172.59" width="4.97" height="9.83" fill="#ff5a00"/>
<rect x="94.08" y="172.59" width="2.19" height="9.83" fill="#82f014"/>
<rect x="95.47" y="172.59" width="7.76" height="9.83" fill="#00f28c"/>
<rect x="102.43" y="172.59" width="3.58" height="9.83" fill="#bae414"/>
<rect x="105.21" y="172.59" width="4.97" height="9.83" fill="#07fa53"/>
<rect x="109.39" y="172.59" width="2.19" height="9.83" fill="#ffc323"/>
<rect x="110.78" y="172.59" width="2.19" height="9.83" fill="#f5cd20"/>
<rect x="112.17" y="172.59" width="3.58" height="9.83" fill="#ff9215"/>
<rect x="114.95" y="172.59" width="7.76" height="9.83" fill="#90ed14"/>
<rect x="121.91" y="172.59" width="3.58" height="9.83" fill="#ff7a0c"/>
<rect x="124.69" y="172.59" width="7.76" height="9.83" fill="#fac821"/>
<rect x="131.65" y="172.59" width="3.58" height="9.83" fill="#ff6203"/>
<rect x="134.43" y="172.59" width="7.76" height="9.83" fill="#c8e114"/>
<rect x="141.38" y="172.59" width="3.58" height="9.83" fill="#fb3e00"/>
<rect x="144.17" y="172.59" width="7.76" height="9.83" fill="#ffb01f"/>
<rect x="151.12" y="172.59" width="3.58" height="9.83" fill="#e11e00"/>
<rect x="153.90" y="172.59" width="7.76" height="9.83" fill="#ff9215"/>
<rect x="160.86" y="172.59" width="3.58" height="9.83" fill="#cf1700"/>
<rect x="163.64" y="172.59" width="7.76" height="9.83" fill="#ff8a12"/>
<rect x="170.60" y="172.59" width="3.58" height="9.83" fill="#d81a00"/>
<rect x="173.38" y="172.59" width="7.76" height="9.83" fill="#ff8a12"/>
<rect x="180.34" y="172.59" width="3.58" height="9.83" fill="#d81a00"/>
<rect x="183.12" y="172.59" width="7.76" height="9.83" fill="#ffaa1e"/>
<rect x="190.08" y="172.59" width="3.58" height="9.83" fill="#c61300"/>
<rect x="192.86" y="172.59" width="7.76" height="9.83" fill="#ace714"/>
<rect x="199.81" y="172.59" width="3.58" height="9.83" fill="#ffb620"/>
<rect x="202.60" y="172.59" width="2.19" height="9.83" fill="#f5cd20"/>
<rect x="203.99" y="172.59" width="6.36" height="9.83" fill="#e3d71b"/>
<rect x="209.55" y="172.59" width="3.58" height="9.83" fill="#ff820f"/>
<rect x="212.34" y="172.59" width="7.76" height="9.83" fill="#82f014"/>
<rect x="219.29" y="172.59" width="3.58" height="9.83" fill="#ff9215"/>
<rect x="222.07" y="172.59" width="2.19" height="9.83" fill="#ace714"/>
<rect x="223.46" y="172.59" width="2.19" height="9.83" fill="#ffc323"/>
<rect x="224.86" y="172.59" width="4.97" height="9.83" fill="#ace714"/>
<rect x="229.03" y="172.59" width="3.58" height="9.83" fill="#ffa21b"/>
<rect x="231.81" y="172.59" width="6.36" height="9.83" fill="#52f61a"/>
<rect x="237.38" y="172.59" width="2.19" height="9.83" fill="#82f014"/>
<rect x="238.77" y="172.59" width="3.58" height="9.83" fill="#f5cd20"/>
<rect x="241.55" y="172.59" width="3.58" height="9.83" fill="#52f61a"/>
<rect x="244.33" y="172.59" width="2.19" height="9.83" fill="#90ed14"/>
<rect x="245.72" y="172.59" width="3.58" height="9.83" fill="#52f61a"/>
<rect x="248.51" y="172.59" width="3.58" height="9.83" fill="#ffbd22"/>
<rect x="251.29" y="172.59" width="3.58" height="9.83" fill="#42f81c"/>
<rect x="254.07" y="172.59" width="2.19" height="9.83" fill="#82f014"/>
<rect x="255.46" y="172.59" width="3.58" height="9.83" fill="#42f81c"/>
<rect x="258.25" y="172.59" width="3.58" height="9.83" fill="#fac821"/>
<rect x="261.03" y="172.59" width="7.76" height="9.83" fill="#00fa64"/>
<rect x="267.98" y="172.59" width="3.58" height="9.83" fill="#ace714"/>
<rect x="270.77" y="172.59" width="7.76" height="9.83" fill="#00f096"/>
<rect x="277.72" y="172.59" width="2.19" height="9.83" fill="#72f216"/>
<rect x="279.11" y="172.59" width="2.19" height="9.83" fill="#90ed14"/>
<rect x="280.50" y="172.59" width="7.76" height="9.83" fill="#00a2fb"/>
<rect x="287.46" y="172.59" width="3.58" height="9.83" fill="#82f014"/>
<rect x="290.24" y="172.59" width="7.76" height="9.83" fill="#008cfd"/>
<rect x="297.20" y="172.59" width="3.58" height="9.83" fill="#00f482"/>
<rect x="299.98" y="172.59" width="7.76" height="9.83" fill="#284deb"/>
<rect x="306.94" y="172.59" width="3.58" height="9.83" fill="#00d9cc"/>
<rect x="309.72" y="172.59" width="7.76" height="9.83" fill="#3c23a0"/>
<rect x="316.68" y="172.59" width="3.58" height="9.83" fill="#00d5d3"/>
<rect x="319.46" y="172.59" width="3.58" height="9.83" fill="#381260"/>
<rect x="322.24" y="172.59" width="4.97" height="9.83" fill="#39146c"/>
<rect x="326.41" y="172.59" width="3.58" height="9.83" fill="#0094fc"/>
<rect x="329.20" y="172.59" width="7.76" height="9.83" fill="#360a3b"/>
<rect x="336.15" y="172.59" width="3.58" height="9.83" fill="#00a2fb"/>
<rect x="338.94" y="172.59" width="3.58" height="9.83" fill="#360a3b"/>
<rect x="341.72" y="172.59" width="2.19" height="9.83" fill="#3a1879"/>
<rect x="343.11" y="172.59" width="3.58" height="9.83" fill="#360a3b"/>
<rect x="345.89" y="172.59" width="3.58" height="9.83" fill="#00e1be"/>
<rect x="348.67" y="172.59" width="7.76" height="9.83" fill="#39146c"/>
<rect x="355.63" y="172.59" width="3.58" height="9.83" fill="#00ed9e"/>
<rect x="358.41" y="172.59" width="7.76" height="9.83" fill="#323cd7"/>
<rect x="365.37" y="172.59" width="3.58" height="9.83" fill="#00f482"/>
<rect x="368.15" y="172.59" width="7.76" height="9.83" fill="#00b1f5"/>
<rect x="375.11" y="172.59" width="3.58" height="9.83" fill="#42f81c"/>
<rect x="377.89" y="172.59" width="7.76" height="9.83" fill="#00d1da"/>
<rect x="384.85" y="172.59" width="3.58" height="9.83" fill="#32fa1e"/>
<rect x="387.63" y="172.59" width="7.76" height="9.83" fill="#00e7ae"/>
<rect x="394.58" y="172.59" width="2.19" height="9.83" fill="#ffb620"/>
<rect x="395.97" y="172.59" width="4.97" height="9.83" fill="#ff9a18"/>
<rect x="400.15" y="172.59" width="2.19" height="9.83" fill="#07fa53"/>
<rect x="401.54" y="172.59" width="3.58" height="9.83" fill="#00f28c"/>
<rect x="404.32" y="172.59" width="3.58" height="9.83" fill="#52f61a"/>
<rect x="407.10" y="172.59" width="3.58" height="9.83" fill="#42f81c"/>
<rect x="409.89" y="172.59" width="2.19" height="9.83" fill="#c8e114"/>
<rect x="411.28" y="172.59" width="3.58" height="9.83" fill="#42f81c"/>
<rect x="414.06" y="172.59" width="3.58" height="9.83" fill="#ffb620"/>
<rect x="416.84" y="172.59" width="2.19" height="9.83" fill="#42f81c"/>
<rect x="418.23" y="172.59" width="2.19" height="9.83" fill="#82f014"/>
<rect x="419.63" y="172.59" width="4.97" height="9.83" fill="#42f81c"/>
<rect x="423.80" y="172.59" width="3.58" height="9.83" fill="#ffbd22"/>
<rect x="426.58" y="172.59" width="7.76" height="9.83" fill="#32fa1e"/>
<rect x="433.54" y="172.59" width="3.58" height="9.83" fill="#ffaa1e"/>
<rect x="436.32" y="172.59" width="7.76" height="9.83" fill="#00fa64"/>
<rect x="443.28" y="172.59" width="3.58" height="9.83" fill="#ffbd22"/>
<rect x="446.06" y="172.59" width="4.97" height="9.83" fill="#00f678"/>
<rect x="450.23" y="172.59" width="3.58" height="9.83" fill="#07fa53"/>
<rect x="453.01" y="172.59" width="3.58" height="9.83" fill="#f5cd20"/>
<rect x="455.80" y="172.59" width="7.76" height="9.83" fill="#00f482"/>
<rect x="462.75" y="172.59" width="3.58" height="9.83" fill="#bae414"/>
<rect x="465.54" y="172.59" width="7.76" height="9.83" fill="#00f28c"/>
<rect x="472.49" y="172.59" width="3.58" height="9.83" fill="#9eea14"/>
<rect x="475.27" y="172.59" width="7.76" height="9.83" fill="#00ed9e"/>
<rect x="482.23" y="172.59" width="3.58" height="9.83" fill="#72f216"/>
<rect x="485.01" y="172.59" width="7.76" height="9.83" fill="#00e1be"/>
<rect x="491.97" y="172.59" width="3.58" height="9.83" fill="#42f81c"/>
<rect x="494.75" y="172.59" width="7.76" height="9.83" fill="#00b1f5"/>
<rect x="501.71" y="172.59" width="3.58" height="9.83" fill="#00f28c"/>
<rect x="504.49" y="172.59" width="7.76" height="9.83" fill="#007dff"/>
<rect x="511.45" y="172.59" width="3.58" height="9.83" fill="#00e4b6"/>
<rect x="514.23" y="172.59" width="7.76" height="9.83" fill="#00aafa"/>
<rect x="521.18" y="172.59" width="3.58" height="9.83" fill="#00f678"/>
<rect x="523.97" y="172.59" width="2.19" height="9.83" fill="#00a2fb"/>
<rect x="525.36" y="172.59" width="2.19" height="9.83" fill="#00eaa6"/>
<rect x="526.75" y="172.59" width="4.97" height="9.83" fill="#00a2fb"/>
<rect x="530.92" y="172.59" width="3.58" height="9.83" fill="#00f096"/>
<rect x="533.70" y="172.59" width="5.19" height="9.83" fill="#00a2fb"/>
<rect x="24.30" y="163.45" width="5.19" height="9.83" fill="#00fa64"/>
<rect x="28.70" y="163.45" width="6.36" height="9.83" fill="#0094fc"/>
<rect x="34.26" y="163.45" width="3.58" height="9.83" fill="#00fa64"/>
<rect x="37.04" y="163.45" width="7.76" height="9.83" fill="#008cfd"/>
<rect x="44.00" y="163.45" width="3.58" height="9.83" fill="#00fa64"/>
<rect x="46.78" y="163.45" width="7.76" height="9.83" fill="#0094fc"/>
<rect x="53.74" y="163.45" width="3.58" height="9.83" fill="#00f482"/>
<rect x="56.52" y="163.45" width="7.76" height="9.83" fill="#1a5ff8"/>
<rect x="63.48" y="163.45" width="3.58" height="9.83" fill="#00f096"/>
<rect x="66.26" y="163.45" width="4.97" height="9.83" fill="#0084fe"/>
<rect x="70.43" y="163.45" width="3.58" height="9.83" fill="#00eaa6"/>
<rect x="73.21" y="163.45" width="3.58" height="9.83" fill="#c8e114"/>
<rect x="76.00" y="163.45" width="7.76" height="9.83" fill="#00e1be"/>
<rect x="82.95" y="163.45" width="3.58" height="9.83" fill="#fac821"/>
<rect x="85.74" y="163.45" width="4.97" height="9.83" fill="#00f678"/>
<rect x="89.91" y="163.45" width="4.97" height="9.83" fill="#eb2800"/>
<rect x="94.08" y="163.45" width="2.19" height="9.83" fill="#ffc323"/>
<rect x="95.47" y="163.45" width="7.76" height="9.83" fill="#32fa1e"/>
<rect x="102.43" y="163.45" width="3.58" height="9.83" fill="#ffaa1e"/>
<rect x="105.21" y="163.45" width="4.97" height="9.83" fill="#82f014"/>
<rect x="109.39" y="163.45" width="2.19" height="9.83" fill="#ffaa1e"/>
<rect x="110.78" y="163.45" width="2.19" height="9.83" fill="#ffb620"/>
<rect x="112.17" y="163.45" width="3.58" height="9.83" fill="#ff7209"/>
<rect x="114.95" y="163.45" width="7.76" height="9.83" fill="#e3d71b"/>
<rect x="121.91" y="163.45" width="3.58" height="9.83" fill="#ff5a00"/>
<rect x="124.69" y="163.45" width="7.76" height="9.83" fill="#ffa21b"/>
<rect x="131.65" y="163.45" width="3.58" height="9.83" fill="#fc4500"/>
<rect x="134.43" y="163.45" width="7.76" height="9.83" fill="#ffc323"/>
<rect x="141.38" y="163.45" width="3.58" height="9.83" fill="#eb2800"/>
<rect x="144.17" y="163.45" width="7.76" height="9.83" fill="#ff820f"/>
<rect x="151.12" y="163.45" width="3.58" height="9.83" fill="#bd1000"/>
<rect x="153.90" y="163.45" width="7.76" height="9.83" fill="#ff6203"/>
<rect x="160.86" y="163.45" width="3.58" height="9.83" fill="#ab0a00"/>
<rect x="163.64" y="163.45" width="7.76" height="9.83" fill="#ff5a00"/>
<rect x="170.60" y="163.45" width="3.58" height="9.83" fill="#b40c00"/>
<rect x="173.38" y="163.45" width="7.76" height="9.83" fill="#ff5a00"/>
<rect x="180.34" y="163.45" width="3.58" height="9.83" fill="#b40c00"/>
<rect x="183.12" y="163.45" width="7.76" height="9.83" fill="#ff7a0c"/>
<rect x="190.08" y="163.45" width="3.58" height="9.83" fill="#a10800"/>
<rect x="192.86" y="163.45" width="7.76" height="9.83" fill="#f5cd20"/>
<rect x="199.81" y="163.45" width="4.97" height="9.83" fill="#ffaa1e"/>
<rect x="203.99" y="163.45" width="6.36" height="9.83" fill="#ffb620"/>
<rect x="209.55" y="163.45" width="3.58" height="9.83" fill="#ff7209"/>
<rect x="212.34" y="163.45" width="7.76" height="9.83" fill="#d5dc17"/>
<rect x="219.29" y="163.45" width="3.58" height="9.83" fill="#ff820f"/>
<rect x="222.07" y="163.45" width="2.19" height="9.83" fill="#f5cd20"/>
<rect x="223.46" y="163.45" width="2.19" height="9.83" fill="#ffb620"/>
<rect x="224.86" y="163.45" width="4.97" height="9.83" fill="#f5cd20"/>
<rect x="229.03" y="163.45" width="3.58" height="9.83" fill="#ff9215"/>
<rect x="231.81" y="163.45" width="7.76" height="9.83" fill="#ace714"/>
<rect x="238.77" y="163.45" width="3.58" height="9.83" fill="#ffbd22"/>
<rect x="241.55" y="163.45" width="3.58" height="9.83" fill="#82f014"/>
<rect x="244.33" y="163.45" width="2.19" height="9.83" fill="#c8e114"/>
<rect x="245.72" y="163.45" width="3.58" height="9.83" fill="#82f014"/>
<rect x="248.51" y="163.45" width="3.58" height="9.83" fill="#ffaa1e"/>
<rect x="251.29" y="163.45" width="3.58" height="9.83" fill="#72f216"/>
<rect x="254.07" y="163.45" width="2.19" height="9.83" fill="#ace714"/>
<rect x="255.46" y="163.45" width="3.58" height="9.83" fill="#72f216"/>
<rect x="258.25" y="163.45" width="3.58" height="9.83" fill="#ffb620"/>
<rect x="261.03" y="163.45" width="7.76" height="9.83" fill="#14fa32"/>
<rect x="267.98" y="163.45" width="3.58" height="9.83" fill="#d5dc17"/>
<rect x="270.77" y="163.45" width="7.76" height="9.83" fill="#00f678"/>
<rect x="277.72" y="163.45" width="3.58" height="9.83" fill="#9eea14"/>
<rect x="280.50" y="163.45" width="7.76" height="9.83" fill="#00c6e6"/>
<rect x="287.46" y="163.45" width="3.58" height="9.83" fill="#90ed14"/>
<rect x="290.24" y="163.45" width="7.76" height="9.83" fill="#00b1f5"/>
<rect x="297.20" y="163.45" width="3.58" height="9.83" fill="#00f678"/>
<rect x="299.98" y="163.45" width="7.76" height="9.83" fill="#007dff"/>
<rect x="306.94" y="163.45" width="3.58" height="9.83" fill="#00ddc5"/>
<rect x="309.72" y="163.45" width="7.76" height="9.83" fill="#2d44e1"/>
<rect x="316.68" y="163.45" width="3.58" height="9.83" fill="#00d9cc"/>
<rect x="319.46" y="163.45" width="7.76" height="9.83" fill="#3c23a0"/>
<rect x="326.41" y="163.45" width="3.58" height="9.83" fill="#009bfc"/>
<rect x="329.20" y="163.45" width="7.76" height="9.83" fill="#370c47"/>
<rect x="336.15" y="163.45" width="3.58" height="9.83" fill="#00aafa"/>
<rect x="338.94" y="163.45" width="3.58" height="9.83" fill="#380f54"/>
<rect x="341.72" y="163.45" width="2.19" height="9.83" fill="#3a29ae"/>
<rect x="343.11" y="163.45" width="3.58" height="9.83" fill="#380f54"/>
<rect x="345.89" y="163.45" width="3.58" height="9.83" fill="#00e4b6"/>
<rect x="348.67" y="163.45" width="7.76" height="9.83" fill="#3c23a0"/>
<rect x="355.63" y="163.45" width="3.58" height="9.83" fill="#00f096"/>
<rect x="358.41" y="163.45" width="7.76" height="9.83" fill="#1a5ff8"/>
<rect x="365.37" y="163.45" width="3.58" height="9.83" fill="#07fa53"/>
<rect x="368.15" y="163.45" width="7.76" height="9.83" fill="#00cde1"/>
<rect x="375.11" y="163.45" width="3.58" height="9.83" fill="#82f014"/>
<rect x="377.89" y="163.45" width="7.76" height="9.83" fill="#00e1be"/>
<rect x="384.85" y="163.45" width="3.58" height="9.83" fill="#72f216"/>
<rect x="387.63" y="163.45" width="7.76" height="9.83" fill="#00f28c"/>
<rect x="394.58" y="163.45" width="2.19" height="9.83" fill="#ff9a18"/>
<rect x="395.97" y="163.45" width="4.97" height="9.83" fill="#ff7a0c"/>
<rect x="400.15" y="163.45" width="2.19" height="9.83" fill="#32fa1e"/>
<rect x="401.54" y="163.45" width="3.58" height="9.83" fill="#00fa64"/>
<rect x="404.32" y="163.45" width="3.58" height="9.83" fill="#90ed14"/>
<rect x="407.10" y="163.45" width="3.58" height="9.83" fill="#ace714"/>
<rect x="409.89" y="163.45" width="2.19" height="9.83" fill="#f5cd20"/>
<rect x="411.28" y="163.45" width="3.58" height="9.83" fill="#ace714"/>
<rect x="414.06" y="163.45" width="3.58" height="9.83" fill="#ff9a18"/>
<rect x="416.84" y="163.45" width="2.19" height="9.83" fill="#ace714"/>
<rect x="418.23" y="163.45" width="2.19" height="9.83" fill="#e3d71b"/>
<rect x="419.63" y="163.45" width="4.97" height="9.83" fill="#ace714"/>
<rect x="423.80" y="163.45" width="3.58" height="9.83" fill="#ffa21b"/>
<rect x="426.58" y="163.45" width="7.76" height="9.83" fill="#9eea14"/>
<rect x="433.54" y="163.45" width="3.58" height="9.83" fill="#ff8a12"/>
<rect x="436.32" y="163.45" width="7.76" height="9.83" fill="#52f61a"/>
<rect x="443.28" y="163.45" width="3.58" height="9.83" fill="#ffa21b"/>
<rect x="446.06" y="163.45" width="7.76" height="9.83" fill="#32fa1e"/>
<rect x="453.01" y="163.45" width="3.58" height="9.83" fill="#ffb620"/>
<rect x="455.80" y="163.45" width="7.76" height="9.83" fill="#07fa53"/>
<rect x="462.75" y="163.45" width="3.58" height="9.83" fill="#f0d21e"/>
<rect x="465.54" y="163.45" width="7.76" height="9.83" fill="#00fa64"/>
<rect x="472.49" y="163.45" width="3.58" height="9.83" fill="#d5dc17"/>
<rect x="475.27" y="163.45" width="7.76" height="9.83" fill="#00f678"/>
<rect x="482.23" y="163.45" width="3.58" height="9.83" fill="#ace714"/>
<rect x="485.01" y="163.45" width="7.76" height="9.83" fill="#00ed9e"/>
<rect x="491.97" y="163.45" width="3.58" height="9.83" fill="#72f216"/>
<rect x="494.75" y="163.45" width="7.76" height="9.83" fill="#00c6e6"/>
<rect x="501.71" y="163.45" width="3.58" height="9.83" fill="#00f86e"/>
<rect x="504.49" y="163.45" width="7.76" height="9.83" fill="#0094fc"/>
<rect x="511.45" y="163.45" width="3.58" height="9.83" fill="#00ed9e"/>
<rect x="514.23" y="163.45" width="7.76" height="9.83" fill="#00bfeb"/>
<rect x="521.18" y="163.45" width="3.58" height="9.83" fill="#07fa53"/>
<rect x="523.97" y="163.45" width="2.19" height="9.83" fill="#00b8f0"/>
<rect x="525.36" y="163.45" width="2.19" height="9.83" fill="#00f28c"/>
<rect x="526.75" y="163.45" width="4.97" height="9.83" fill="#00b8f0"/>
<rect x="530.92" y="163.45" width="3.58" height="9.83" fill="#00f678"/>
<rect x="533.70" y="163.45" width="5.19" height="9.83" fill="#00b8f0"/>
<rect x="24.30" y="154.32" width="5.19" height="9.83" fill="#00f482"/>
<rect x="28.70" y="154.32" width="6.36" height="9.83" fill="#1269fa"/>
<rect x="34.26" y="154.32" width="3.58" height="9.83" fill="#00f482"/>
<rect x="37.04" y="154.32" width="7.76" height="9.83" fill="#1a5ff8"/>
<rect x="44.00" y="154.32" width="3.58" height="9.83" fill="#00f482"/>
<rect x="46.78" y="154.32" width="7.76" height="9.83" fill="#1269fa"/>
<rect x="53.74" y="154.32" width="3.58" height="9.83" fill="#00ed9e"/>
<rect x="56.52" y="154.32" width="7.76" height="9.83" fill="#3436c9"/>
<rect x="63.48" y="154.32" width="3.58" height="9.83" fill="#00e7ae"/>
<rect x="66.26" y="154.32" width="4.97" height="9.83" fill="#2355f5"/>
<rect x="70.43" y="154.32" width="3.58" height="9.83" fill="#00e4b6"/>
<rect x="73.21" y="154.32" width="3.58" height="9.83" fill="#82f014"/>
<rect x="76.00" y="154.32" width="7.76" height="9.83" fill="#00d9cc"/>
<rect x="82.95" y="154.32" width="3.58" height="9.83" fill="#c8e114"/>
<rect x="85.74" y="154.32" width="4.97" height="9.83" fill="#00f28c"/>
<rect x="89.91" y="154.32" width="4.97" height="9.83" fill="#fd4c00"/>
<rect x="94.08" y="154.32" width="2.19" height="9.83" fill="#d5dc17"/>
<rect x="95.47" y="154.32" width="7.76" height="9.83" fill="#14fa32"/>
<rect x="102.43" y="154.32" width="3.58" height="9.83" fill="#fac821"/>
<rect x="105.21" y="154.32" width="4.97" height="9.83" fill="#62f418"/>
<rect x="109.39" y="154.32" width="2.19" height="9.83" fill="#f0d21e"/>
<rect x="110.78" y="154.32" width="2.19" height="9.83" fill="#d5dc17"/>
<rect x="112.17" y="154.32" width="3.58" height="9.83" fill="#ffaa1e"/>
<rect x="114.95" y="154.32" width="7.76" height="9.83" fill="#9eea14"/>
<rect x="121.91" y="154.32" width="3.58" height="9.83" fill="#ff9215"/>
<rect x="124.69" y="154.32" width="7.76" height="9.83" fill="#ffc323"/>
<rect x="131.65" y="154.32" width="3.58" height="9.83" fill="#ff7a0c"/>
<rect x="134.43" y="154.32" width="7.76" height="9.83" fill="#d5dc17"/>
<rect x="141.38" y="154.32" width="3.58" height="9.83" fill="#fe5300"/>
<rect x="144.17" y="154.32" width="7.76" height="9.83" fill="#ffaa1e"/>
<rect x="151.12" y="154.32" width="2.19" height="9.83" fill="#f02d00"/>
<rect x="152.51" y="154.32" width="2.19" height="9.83" fill="#e62300"/>
<rect x="153.90" y="154.32" width="7.76" height="9.83" fill="#ff8a12"/>
<rect x="160.86" y="154.32" width="3.58" height="9.83" fill="#d81a00"/>
<rect x="163.64" y="154.32" width="7.76" height="9.83" fill="#ff820f"/>
<rect x="170.60" y="154.32" width="3.58" height="9.83" fill="#e11e00"/>
<rect x="173.38" y="154.32" width="7.76" height="9.83" fill="#ff820f"/>
<rect x="180.34" y="154.32" width="3.58" height="9.83" fill="#e11e00"/>
<rect x="183.12" y="154.32" width="7.76" height="9.83" fill="#ffa21b"/>
<rect x="190.08" y="154.32" width="3.58" height="9.83" fill="#cf1700"/>
<rect x="192.86" y="154.32" width="2.19" height="9.83" fill="#bae414"/>
<rect x="194.25" y="154.32" width="6.36" height="9.83" fill="#90ed14"/>
<rect x="199.81" y="154.32" width="3.58" height="9.83" fill="#f5cd20"/>
<rect x="202.60" y="154.32" width="2.19" height="9.83" fill="#e3d71b"/>
<rect x="203.99" y="154.32" width="6.36" height="9.83" fill="#c8e114"/>
<rect x="209.55" y="154.32" width="3.58" height="9.83" fill="#ffa21b"/>
<rect x="212.34" y="154.32" width="7.76" height="9.83" fill="#62f418"/>
<rect x="219.29" y="154.32" width="3.58" height="9.83" fill="#ffb01f"/>
<rect x="222.07" y="154.32" width="2.19" height="9.83" fill="#90ed14"/>
<rect x="223.46" y="154.32" width="2.19" height="9.83" fill="#e3d71b"/>
<rect x="224.86" y="154.32" width="4.97" height="9.83" fill="#90ed14"/>
<rect x="229.03" y="154.32" width="3.58" height="9.83" fill="#ffbd22"/>
<rect x="231.81" y="154.32" width="6.36" height="9.83" fill="#32fa1e"/>
<rect x="237.38" y="154.32" width="2.19" height="9.83" fill="#62f418"/>
<rect x="238.77" y="154.32" width="3.58" height="9.83" fill="#e3d71b"/>
<rect x="241.55" y="154.32" width="3.58" height="9.83" fill="#32fa1e"/>
<rect x="244.33" y="154.32" width="2.19" height="9.83" fill="#72f216"/>
<rect x="245.72" y="154.32" width="3.58" height="9.83" fill="#32fa1e"/>
<rect x="248.51" y="154.32" width="3.58" height="9.83" fill="#fac821"/>
<rect x="251.29" y="154.32" width="3.58" height="9.83" fill="#23fa28"/>
<rect x="254.07" y="154.32" width="2.19" height="9.83" fill="#62f418"/>
<rect x="255.46" y="154.32" width="3.58" height="9.83" fill="#23fa28"/>
<rect x="258.25" y="154.32" width="3.58" height="9.83" fill="#f0d21e"/>
<rect x="261.03" y="154.32" width="7.76" height="9.83" fill="#00f678"/>
<rect x="267.98" y="154.32" width="3.58" height="9.83" fill="#90ed14"/>
<rect x="270.77" y="154.32" width="7.76" height="9.83" fill="#00eaa6"/>
<rect x="277.72" y="154.32" width="2.19" height="9.83" fill="#52f61a"/>
<rect x="279.11" y="154.32" width="2.19" height="9.83" fill="#62f418"/>
<rect x="280.50" y="154.32" width="7.76" height="9.83" fill="#00aafa"/>
<rect x="287.46" y="154.32" width="3.58" height="9.83" fill="#52f61a"/>
<rect x="290.24" y="154.32" width="7.76" height="9.83" fill="#0094fc"/>
<rect x="297.20" y="154.32" width="3.58" height="9.83" fill="#00ed9e"/>
<rect x="299.98" y="154.32" width="7.76" height="9.83" fill="#2355f5"/>
<rect x="306.94" y="154.32" width="3.58" height="9.83" fill="#00cde1"/>
<rect x="309.72" y="154.32" width="7.76" height="9.83" fill="#3a29ae"/>
<rect x="316.68" y="154.32" width="3.58" height="9.83" fill="#00c6e6"/>
<rect x="319.46" y="154.32" width="7.76" height="9.83" fill="#39146c"/>
<rect x="326.41" y="154.32" width="3.58" height="9.83" fill="#007dff"/>
<rect x="329.20" y="154.32" width="7.76" height="9.83" fill="#360a3b"/>
<rect x="336.15" y="154.32" width="3.58" height="9.83" fill="#008cfd"/>
<rect x="338.94" y="154.32" width="3.58" height="9.83" fill="#360a3b"/>
<rect x="341.72" y="154.32" width="2.19" height="9.83" fill="#3a1879"/>
<rect x="343.11" y="154.32" width="3.58" height="9.83" fill="#360a3b"/>
<rect x="345.89" y="154.32" width="3.58" height="9.83" fill="#00d5d3"/>
<rect x="348.67" y="154.32" width="7.76" height="9.83" fill="#39146c"/>
<rect x="355.63" y="154.32" width="3.58" height="9.83" fill="#00e4b6"/>
<rect x="358.41" y="154.32" width="7.76" height="9.83" fill="#323cd7"/>
<rect x="365.37" y="154.32" width="3.58" height="9.83" fill="#00f678"/>
<rect x="368.15" y="154.32" width="7.76" height="9.83" fill="#00b8f0"/>
<rect x="375.11" y="154.32" width="3.58" height="9.83" fill="#52f61a"/>
<rect x="377.89" y="154.32" width="7.76" height="9.83" fill="#00d5d3"/>
<rect x="384.85" y="154.32" width="3.58" height="9.83" fill="#42f81c"/>
<rect x="387.63" y="154.32" width="7.76" height="9.83" fill="#00eaa6"/>
<rect x="394.58" y="154.32" width="2.19" height="9.83" fill="#ffb01f"/>
<rect x="395.97" y="154.32" width="4.97" height="9.83" fill="#ffaa1e"/>
<rect x="400.15" y="154.32" width="2.19" height="9.83" fill="#0dfa43"/>
<rect x="401.54" y="154.32" width="3.58" height="9.83" fill="#00f482"/>
<rect x="404.32" y="154.32" width="3.58" height="9.83" fill="#62f418"/>
<rect x="407.10" y="154.32" width="3.58" height="9.83" fill="#32fa1e"/>
<rect x="409.89" y="154.32" width="2.19" height="9.83" fill="#9eea14"/>
<rect x="411.28" y="154.32" width="3.58" height="9.83" fill="#32fa1e"/>
<rect x="414.06" y="154.32" width="3.58" height="9.83" fill="#fac821"/>
<rect x="416.84" y="154.32" width="2.19" height="9.83" fill="#32fa1e"/>
<rect x="418.23" y="154.32" width="2.19" height="9.83" fill="#72f216"/>
<rect x="419.63" y="154.32" width="4.97" height="9.83" fill="#32fa1e"/>
<rect x="423.80" y="154.32" width="3.58" height="9.83" fill="#f5cd20"/>
<rect x="426.58" y="154.32" width="7.76" height="9.83" fill="#23fa28"/>
<rect x="433.54" y="154.32" width="3.58" height="9.83" fill="#ffbd22"/>
<rect x="436.32" y="154.32" width="7.76" height="9.83" fill="#00f86e"/>
<rect x="443.28" y="154.32" width="3.58" height="9.83" fill="#f5cd20"/>
<rect x="446.06" y="154.32" width="4.97" height="9.83" fill="#00f482"/>
<rect x="450.23" y="154.32" width="3.58" height="9.83" fill="#00f096"/>
<rect x="453.01" y="154.32" width="3.58" height="9.83" fill="#c8e114"/>
<rect x="455.80" y="154.32" width="7.76" height="9.83" fill="#00e4b6"/>
<rect x="462.75" y="154.32" width="3.58" height="9.83" fill="#82f014"/>
<rect x="465.54" y="154.32" width="7.76" height="9.83" fill="#00e1be"/>
<rect x="472.49" y="154.32" width="3.58" height="9.83" fill="#62f418"/>
<rect x="475.27" y="154.32" width="7.76" height="9.83" fill="#00d9cc"/>
<rect x="482.23" y="154.32" width="3.58" height="9.83" fill="#32fa1e"/>
<rect x="485.01" y="154.32" width="7.76" height="9.83" fill="#00c6e6"/>
<rect x="491.97" y="154.32" width="3.58" height="9.83" fill="#0dfa43"/>
<rect x="494.75" y="154.32" width="7.76" height="9.83" fill="#008cfd"/>
<rect x="501.71" y="154.32" width="3.58" height="9.83" fill="#00e7ae"/>
<rect x="504.49" y="154.32" width="7.76" height="9.83" fill="#284deb"/>
<rect x="511.45" y="154.32" width="3.58" height="9.83" fill="#00d5d3"/>
<rect x="514.23" y="154.32" width="7.76" height="9.83" fill="#0084fe"/>
<rect x="521.18" y="154.32" width="3.58" height="9.83" fill="#00ed9e"/>
<rect x="523.97" y="154.32" width="2.19" height="9.83" fill="#007dff"/>
<rect x="525.36" y="154.32" width="2.19" height="9.83" fill="#00ddc5"/>
<rect x="526.75" y="154.32" width="4.97" height="9.83" fill="#007dff"/>
<rect x="530.92" y="154.32" width="3.58" height="9.83" fill="#00e4b6"/>
<rect x="533.70" y="154.32" width="5.19" height="9.83" fill="#007dff"/>
<rect x="24.30" y="145.19" width="5.19" height="9.83" fill="#00bfeb"/>
<rect x="28.70" y="145.19" width="6.36" height="9.83" fill="#360a3b"/>
<rect x="34.26" y="145.19" width="3.58" height="9.83" fill="#00bfeb"/>
<rect x="37.04" y="145.19" width="7.76" height="9.83" fill="#360a3b"/>
<rect x="44.00" y="145.19" width="3.58" height="9.83" fill="#00bfeb"/>
<rect x="46.78" y="145.19" width="7.76" height="9.83" fill="#360a3b"/>
<rect x="53.74" y="145.19" width="3.58" height="9.83" fill="#00aafa"/>
<rect x="56.52" y="145.19" width="7.76" height="9.83" fill="#360a3b"/>
<rect x="63.48" y="145.19" width="3.58" height="9.83" fill="#009bfc"/>
<rect x="66.26" y="145.19" width="4.97" height="9.83" fill="#360a3b"/>
<rect x="70.43" y="145.19" width="3.58" height="9.83" fill="#009bfc"/>
<rect x="73.21" y="145.19" width="3.58" height="9.83" fill="#00f482"/>
<rect x="76.00" y="145.19" width="7.76" height="9.83" fill="#0084fe"/>
<rect x="82.95" y="145.19" width="3.58" height="9.83" fill="#0dfa43"/>
<rect x="85.74" y="145.19" width="4.97" height="9.83" fill="#00bfeb"/>
<rect x="89.91" y="145.19" width="4.97" height="9.83" fill="#ffaa1e"/>
<rect x="94.08" y="145.19" width="2.19" height="9.83" fill="#14fa32"/>
<rect x="95.47" y="145.19" width="7.76" height="9.83" fill="#00e1be"/>
<rect x="102.43" y="145.19" width="3.58" height="9.83" fill="#52f61a"/>
<rect x="105.21" y="145.19" width="4.97" height="9.83" fill="#00f096"/>
<rect x="109.39" y="145.19" width="2.19" height="9.83" fill="#32fa1e"/>
<rect x="110.78" y="145.19" width="2.19" height="9.83" fill="#14fa32"/>
<rect x="112.17" y="145.19" width="3.58" height="9.83" fill="#9eea14"/>
<rect x="114.95" y="145.19" width="7.76" height="9.83" fill="#00f678"/>
<rect x="121.91" y="145.19" width="3.58" height="9.83" fill="#c8e114"/>
<rect x="124.69" y="145.19" width="7.76" height="9.83" fill="#52f61a"/>
<rect x="131.65" y="145.19" width="3.58" height="9.83" fill="#f0d21e"/>
<rect x="134.43" y="145.19" width="7.76" height="9.83" fill="#0dfa43"/>
<rect x="141.38" y="145.19" width="3.58" height="9.83" fill="#ffb620"/>
<rect x="144.17" y="145.19" width="7.76" height="9.83" fill="#90ed14"/>
<rect x="151.12" y="145.19" width="3.58" height="9.83" fill="#ff8a12"/>
<rect x="153.90" y="145.19" width="7.76" height="9.83" fill="#bae414"/>
<rect x="160.86" y="145.19" width="3.58" height="9.83" fill="#ff7a0c"/>
<rect x="163.64" y="145.19" width="7.76" height="9.83" fill="#c8e114"/>
<rect x="170.60" y="145.19" width="3.58" height="9.83" fill="#ff820f"/>
<rect x="173.38" y="145.19" width="7.76" height="9.83" fill="#c8e114"/>
<rect x="180.34" y="145.19" width="3.58" height="9.83" fill="#ff820f"/>
<rect x="183.12" y="145.19" width="7.76" height="9.83" fill="#90ed14"/>
<rect x="190.08" y="145.19" width="3.58" height="9.83" fill="#ff7209"/>
<rect x="192.86" y="145.19" width="7.76" height="9.83" fill="#00f86e"/>
<rect x="199.81" y="145.19" width="3.58" height="9.83" fill="#72f216"/>
<rect x="202.60" y="145.19" width="2.19" height="9.83" fill="#32fa1e"/>
<rect x="203.99" y="145.19" width="6.36" height="9.83" fill="#14fa32"/>
<rect x="209.55" y="145.19" width="3.58" height="9.83" fill="#d5dc17"/>
<rect x="212.34" y="145.19" width="7.76" height="9.83" fill="#00f28c"/>
<rect x="219.29" y="145.19" width="3.58" height="9.83" fill="#bae414"/>
<rect x="222.07" y="145.19" width="2.19" height="9.83" fill="#00f86e"/>
<rect x="223.46" y="145.19" width="2.19" height="9.83" fill="#52f61a"/>
<rect x="224.86" y="145.19" width="4.97" height="9.83" fill="#00f86e"/>
<rect x="229.03" y="145.19" width="3.58" height="9.83" fill="#9eea14"/>
<rect x="231.81" y="145.19" width="6.36" height="9.83" fill="#00eaa6"/>
<rect x="237.38" y="145.19" width="2.19" height="9.83" fill="#00f28c"/>
<rect x="238.77" y="145.19" width="3.58" height="9.83" fill="#23fa28"/>
<rect x="241.55" y="145.19" width="3.58" height="9.83" fill="#00eaa6"/>
<rect x="244.33" y="145.19" width="2.19" height="9.83" fill="#00f482"/>
<rect x="245.72" y="145.19" width="3.58" height="9.83" fill="#00eaa6"/>
<rect x="248.51" y="145.19" width="3.58" height="9.83" fill="#52f61a"/>
<rect x="251.29" y="145.19" width="3.58" height="9.83" fill="#00e7ae"/>
<rect x="254.07" y="145.19" width="2.19" height="9.83" fill="#00f28c"/>
<rect x="255.46" y="145.19" width="3.58" height="9.83" fill="#00e7ae"/>
<rect x="258.25" y="145.19" width="3.58" height="9.83" fill="#32fa1e"/>
<rect x="261.03" y="145.19" width="7.76" height="9.83" fill="#00d1da"/>
<rect x="267.98" y="145.19" width="3.58" height="9.83" fill="#00f678"/>
<rect x="270.77" y="145.19" width="7.76" height="9.83" fill="#00b1f5"/>
<rect x="277.72" y="145.19" width="2.19" height="9.83" fill="#00ed9e"/>
<rect x="279.11" y="145.19" width="2.19" height="9.83" fill="#00fa64"/>
<rect x="280.50" y="145.19" width="7.76" height="9.83" fill="#1269fa"/>
<rect x="287.46" y="145.19" width="3.58" height="9.83" fill="#00f86e"/>
<rect x="290.24" y="145.19" width="7.76" height="9.83" fill="#284deb"/>
<rect x="297.20" y="145.19" width="3.58" height="9.83" fill="#00d1da"/>
<rect x="299.98" y="145.19" width="7.76" height="9.83" fill="#3b1f93"/>
<rect x="306.94" y="145.19" width="3.58" height="9.83" fill="#0094fc"/>
<rect x="309.72" y="145.19" width="7.76" height="9.83" fill="#370c47"/>
<rect x="316.68" y="145.19" width="3.58" height="9.83" fill="#008cfd"/>
<rect x="319.46" y="145.19" width="7.76" height="9.83" fill="#360a3b"/>
<rect x="326.41" y="145.19" width="3.58" height="9.83" fill="#323cd7"/>
<rect x="329.20" y="145.19" width="7.76" height="9.83" fill="#360a3b"/>
<rect x="336.15" y="145.19" width="3.58" height="9.83" fill="#284deb"/>
<rect x="338.94" y="145.19" width="7.76" height="9.83" fill="#360a3b"/>
<rect x="345.89" y="145.19" width="3.58" height="9.83" fill="#00aafa"/>
<rect x="348.67" y="145.19" width="7.76" height="9.83" fill="#360a3b"/>
<rect x="355.63" y="145.19" width="3.58" height="9.83" fill="#00c6e6"/>
<rect x="358.41" y="145.19" width="7.76" height="9.83" fill="#3a1879"/>
<rect x="365.37" y="145.19" width="3.58" height="9.83" fill="#00d5d3"/>
<rect x="368.15" y="145.19" width="7.76" height="9.83" fill="#1a5ff8"/>
<rect x="375.11" y="145.19" width="3.58" height="9.83" fill="#00f28c"/>
<rect x="377.89" y="145.19" width="7.76" height="9.83" fill="#008cfd"/>
<rect x="384.85" y="145.19" width="3.58" height="9.83" fill="#00f096"/>
<rect x="387.63" y="145.19" width="7.76" height="9.83" fill="#00b8f0"/>
<rect x="394.58" y="145.19" width="2.19" height="9.83" fill="#ace714"/>
<rect x="395.97" y="145.19" width="4.97" height="9.83" fill="#c8e114"/>
<rect x="400.15" y="145.19" width="2.19" height="9.83" fill="#00e4b6"/>
<rect x="401.54" y="145.19" width="3.58" height="9.83" fill="#00d1da"/>
<rect x="404.32" y="145.19" width="3.58" height="9.83" fill="#00f482"/>
<rect x="407.10" y="145.19" width="3.58" height="9.83" fill="#00e4b6"/>
<rect x="409.89" y="145.19" width="2.19" height="9.83" fill="#00f482"/>
<rect x="411.28" y="145.19" width="3.58" height="9.83" fill="#00e4b6"/>
<rect x="414.06" y="145.19" width="3.58" height="9.83" fill="#32fa1e"/>
<rect x="416.84" y="145.19" width="2.19" height="9.83" fill="#00e4b6"/>
<rect x="418.23" y="145.19" width="2.19" height="9.83" fill="#00f096"/>
<rect x="419.63" y="145.19" width="4.97" height="9.83" fill="#00e4b6"/>
<rect x="423.80" y="145.19" width="3.58" height="9.83" fill="#23fa28"/>
<rect x="426.58" y="145.19" width="7.76" height="9.83" fill="#00e1be"/>
<rect x="433.54" y="145.19" width="3.58" height="9.83" fill="#52f61a"/>
<rect x="436.32" y="145.19" width="7.76" height="9.83" fill="#00cde1"/>
<rect x="443.28" y="145.19" width="3.58" height="9.83" fill="#23fa28"/>
<rect x="446.06" y="145.19" width="4.97" height="9.83" fill="#00bfeb"/>
<rect x="450.23" y="145.19" width="3.58" height="9.83" fill="#007dff"/>
<rect x="453.01" y="145.19" width="3.58" height="9.83" fill="#00f482"/>
<rect x="455.80" y="145.19" width="7.76" height="9.83" fill="#2355f5"/>
<rect x="462.75" y="145.19" width="3.58" height="9.83" fill="#00e7ae"/>
<rect x="465.54" y="145.19" width="7.76" height="9.83" fill="#284deb"/>
<rect x="472.49" y="145.19" width="3.58" height="9.83" fill="#00e1be"/>
<rect x="475.27" y="145.19" width="7.76" height="9.83" fill="#323cd7"/>
<rect x="482.23" y="145.19" width="3.58" height="9.83" fill="#00d5d3"/>
<rect x="485.01" y="145.19" width="7.76" height="9.83" fill="#3c23a0"/>
<rect x="491.97" y="145.19" width="3.58" height="9.83" fill="#00d1da"/>
<rect x="494.75" y="145.19" width="7.76" height="9.83" fill="#3a1c86"/>
<rect x="501.71" y="145.19" width="3.58" height="9.83" fill="#008cfd"/>
<rect x="504.49" y="145.19" width="7.76" height="9.83" fill="#360a3b"/>
<rect x="511.45" y="145.19" width="3.58" height="9.83" fill="#1a5ff8"/>
<rect x="514.23" y="145.19" width="7.76" height="9.83" fill="#3a1879"/>
<rect x="521.18" y="145.19" width="3.58" height="9.83" fill="#009bfc"/>
<rect x="523.97" y="145.19" width="2.19" height="9.83" fill="#39146c"/>
<rect x="525.36" y="145.19" width="2.19" height="9.83" fill="#0973fc"/>
<rect x="526.75" y="145.19" width="4.97" height="9.83" fill="#39146c"/>
<rect x="530.92" y="145.19" width="3.58" height="9.83" fill="#0084fe"/>
<rect x="533.70" y="145.19" width="5.19" height="9.83" fill="#39146c"/>
<rect x="24.30" y="136.06" width="5.19" height="9.83" fill="#3a1879"/>
<rect x="28.70" y="136.06" width="6.36" height="9.83" fill="#360a3b"/>
<rect x="34.26" y="136.06" width="3.58" height="9.83" fill="#3a1879"/>
<rect x="37.04" y="136.06" width="7.76" height="9.83" fill="#360a3b"/>
<rect x="44.00" y="136.06" width="3.58" height="9.83" fill="#3a1879"/>
<rect x="46.78" y="136.06" width="7.76" height="9.83" fill="#360a3b"/>
<rect x="53.74" y="136.06" width="3.58" height="9.83" fill="#380f54"/>
<rect x="56.52" y="136.06" width="17.49" height="9.83" fill="#360a3b"/>
<rect x="73.21" y="136.06" width="3.58" height="9.83" fill="#009bfc"/>
<rect x="76.00" y="136.06" width="7.76" height="9.83" fill="#360a3b"/>
<rect x="82.95" y="136.06" width="3.58" height="9.83" fill="#00bfeb"/>
<rect x="85.74" y="136.06" width="4.97" height="9.83" fill="#370c47"/>
<rect x="89.91" y="136.06" width="4.97" height="9.83" fill="#14fa32"/>
<rect x="94.08" y="136.06" width="2.19" height="9.83" fill="#00c6e6"/>
<rect x="95.47" y="136.06" width="7.76" height="9.83" fill="#3c23a0"/>
<rect x="102.43" y="136.06" width="3.58" height="9.83" fill="#00d9cc"/>
<rect x="105.21" y="136.06" width="4.97" height="9.83" fill="#2d44e1"/>
<rect x="109.39" y="136.06" width="2.19" height="9.83" fill="#00cde1"/>
<rect x="110.78" y="136.06" width="2.19" height="9.83" fill="#00bfeb"/>
<rect x="112.17" y="136.06" width="3.58" height="9.83" fill="#00e7ae"/>
<rect x="114.95" y="136.06" width="7.76" height="9.83" fill="#0084fe"/>
<rect x="121.91" y="136.06" width="3.58" height="9.83" fill="#00f096"/>
<rect x="124.69" y="136.06" width="7.76" height="9.83" fill="#00c6e6"/>
<rect x="131.65" y="136.06" width="3.58" height="9.83" fill="#00f678"/>
<rect x="134.43" y="136.06" width="7.76" height="9.83" fill="#00a2fb"/>
<rect x="141.38" y="136.06" width="3.58" height="9.83" fill="#14fa32"/>
<rect x="144.17" y="136.06" width="7.76" height="9.83" fill="#00d9cc"/>
<rect x="151.12" y="136.06" width="3.58" height="9.83" fill="#72f216"/>
<rect x="153.90" y="136.06" width="7.76" height="9.83" fill="#00d9cc"/>
<rect x="160.86" y="136.06" width="3.58" height="9.83" fill="#90ed14"/>
<rect x="163.64" y="136.06" width="7.76" height="9.83" fill="#00ddc5"/>
<rect x="170.60" y="136.06" width="3.58" height="9.83" fill="#82f014"/>
<rect x="173.38" y="136.06" width="7.76" height="9.83" fill="#00ddc5"/>
<rect x="180.34" y="136.06" width="3.58" height="9.83" fill="#82f014"/>
<rect x="183.12" y="136.06" width="7.76" height="9.83" fill="#00cde1"/>
<rect x="190.08" y="136.06" width="3.58" height="9.83" fill="#9eea14"/>
<rect x="192.86" y="136.06" width="2.19" height="9.83" fill="#0973fc"/>
<rect x="194.25" y="136.06" width="6.36" height="9.83" fill="#00b8f0"/>
<rect x="199.81" y="136.06" width="3.58" height="9.83" fill="#00e4b6"/>
<rect x="202.60" y="136.06" width="2.19" height="9.83" fill="#00d9cc"/>
<rect x="203.99" y="136.06" width="6.36" height="9.83" fill="#00d1da"/>
<rect x="209.55" y="136.06" width="3.58" height="9.83" fill="#00f678"/>
<rect x="212.34" y="136.06" width="7.76" height="9.83" fill="#00a2fb"/>
<rect x="219.29" y="136.06" width="3.58" height="9.83" fill="#00f28c"/>
<rect x="222.07" y="136.06" width="2.19" height="9.83" fill="#00b8f0"/>
<rect x="223.46" y="136.06" width="2.19" height="9.83" fill="#00ddc5"/>
<rect x="224.86" y="136.06" width="4.97" height="9.83" fill="#00b8f0"/>
<rect x="229.03" y="136.06" width="3.58" height="9.83" fill="#00ed9e"/>
<rect x="231.81" y="136.06" width="6.36" height="9.83" fill="#008cfd"/>
<rect x="237.38" y="136.06" width="2.19" height="9.83" fill="#0094fc"/>
<rect x="238.77" y="136.06" width="3.58" height="9.83" fill="#00d5d3"/>
<rect x="241.55" y="136.06" width="3.58" height="9.83" fill="#007dff"/>
<rect x="244.33" y="136.06" width="2.19" height="9.83" fill="#00a2fb"/>
<rect x="245.72" y="136.06" width="3.58" height="9.83" fill="#007dff"/>
<rect x="248.51" y="136.06" width="3.58" height="9.83" fill="#00e1be"/>
<rect x="251.29" y="136.06" width="3.58" height="9.83" fill="#0973fc"/>
<rect x="254.07" y="136.06" width="2.19" height="9.83" fill="#0094fc"/>
<rect x="255.46" y="136.06" width="3.58" height="9.83" fill="#0973fc"/>
<rect x="258.25" y="136.06" width="3.58" height="9.83" fill="#00d9cc"/>
<rect x="261.03" y="136.06" width="7.76" height="9.83" fill="#323cd7"/>
<rect x="267.98" y="136.06" width="3.58" height="9.83" fill="#00b1f5"/>
<rect x="270.77" y="136.06" width="7.76" height="9.83" fill="#3b1f93"/>
<rect x="277.72" y="136.06" width="2.19" height="9.83" fill="#0094fc"/>
<rect x="279.11" y="136.06" width="2.19" height="9.83" fill="#00d1da"/>
<rect x="280.50" y="136.06" width="7.76" height="9.83" fill="#381260"/>
<rect x="287.46" y="136.06" width="3.58" height="9.83" fill="#00cde1"/>
<rect x="290.24" y="136.06" width="7.76" height="9.83" fill="#360a3b"/>
<rect x="297.20" y="136.06" width="3.58" height="9.83" fill="#1269fa"/>
<rect x="299.98" y="136.06" width="7.76" height="9.83" fill="#360a3b"/>
<rect x="306.94" y="136.06" width="3.58" height="9.83" fill="#3c23a0"/>
<rect x="309.72" y="136.06" width="7.76" height="9.83" fill="#360a3b"/>
<rect x="316.68" y="136.06" width="3.58" height="9.83" fill="#3b1f93"/>
<rect x="319.46" y="136.06" width="7.76" height="9.83" fill="#360a3b"/>
<rect x="326.41" y="136.06" width="3.58" height="9.83" fill="#370c47"/>
<rect x="329.20" y="136.06" width="7.76" height="9.83" fill="#360a3b"/>
<rect x="336.15" y="136.06" width="3.58" height="9.83" fill="#381260"/>
<rect x="338.94" y="136.06" width="7.76" height="9.83" fill="#360a3b"/>
<rect x="345.89" y="136.06" width="3.58" height="9.83" fill="#284deb"/>
<rect x="348.67" y="136.06" width="7.76" height="9.83" fill="#360a3b"/>
<rect x="355.63" y="136.06" width="3.58" height="9.83" fill="#0973fc"/>
<rect x="358.41" y="136.06" width="7.76" height="9.83" fill="#360a3b"/>
<rect x="365.37" y="136.06" width="3.58" height="9.83" fill="#284deb"/>
<rect x="368.15" y="136.06" width="7.76" height="9.83" fill="#360a3b"/>
<rect x="375.11" y="136.06" width="3.58" height="9.83" fill="#009bfc"/>
<rect x="377.89" y="136.06" width="7.76" height="9.83" fill="#360a3b"/>
<rect x="384.85" y="136.06" width="3.58" height="9.83" fill="#0094fc"/>
<rect x="387.63" y="136.06" width="7.76" height="9.83" fill="#360a3b"/>
<rect x="394.58" y="136.06" width="2.19" height="9.83" fill="#00f096"/>
<rect x="395.97" y="136.06" width="4.97" height="9.83" fill="#00f678"/>
<rect x="400.15" y="136.06" width="2.19" height="9.83" fill="#3c23a0"/>
<rect x="401.54" y="136.06" width="3.58" height="9.83" fill="#381260"/>
<rect x="404.32" y="136.06" width="3.58" height="9.83" fill="#00a2fb"/>
<rect x="407.10" y="136.06" width="3.58" height="9.83" fill="#3436c9"/>
<rect x="409.89" y="136.06" width="2.19" height="9.83" fill="#0973fc"/>
<rect x="411.28" y="136.06" width="3.58" height="9.83" fill="#3436c9"/>
<rect x="414.06" y="136.06" width="3.58" height="9.83" fill="#00b1f5"/>
<rect x="416.84" y="136.06" width="2.19" height="9.83" fill="#3436c9"/>
<rect x="418.23" y="136.06" width="2.19" height="9.83" fill="#2355f5"/>
<rect x="419.63" y="136.06" width="4.97" height="9.83" fill="#3436c9"/>
<rect x="423.80" y="136.06" width="3.58" height="9.83" fill="#00aafa"/>
<rect x="426.58" y="136.06" width="7.76" height="9.83" fill="#3730bc"/>
<rect x="433.54" y="136.06" width="3.58" height="9.83" fill="#00bfeb"/>
<rect x="436.32" y="136.06" width="7.76" height="9.83" fill="#3a1879"/>
<rect x="443.28" y="136.06" width="3.58" height="9.83" fill="#00aafa"/>
<rect x="446.06" y="136.06" width="4.97" height="9.83" fill="#381260"/>
<rect x="450.23" y="136.06" width="3.58" height="9.83" fill="#360a3b"/>
<rect x="453.01" y="136.06" width="3.58" height="9.83" fill="#0084fe"/>
<rect x="455.80" y="136.06" width="7.76" height="9.83" fill="#360a3b"/>
<rect x="462.75" y="136.06" width="3.58" height="9.83" fill="#2355f5"/>
<rect x="465.54" y="136.06" width="7.76" height="9.83" fill="#360a3b"/>
<rect x="472.49" y="136.06" width="3.58" height="9.83" fill="#2d44e1"/>
<rect x="475.27" y="136.06" width="7.76" height="9.83" fill="#360a3b"/>
<rect x="482.23" y="136.06" width="3.58" height="9.83" fill="#3730bc"/>
<rect x="485.01" y="136.06" width="7.76" height="9.83" fill="#360a3b"/>
<rect x="491.97" y="136.06" width="3.58" height="9.83" fill="#3436c9"/>
<rect x="494.75" y="136.06" width="7.76" height="9.83" fill="#360a3b"/>
<rect x="501.71" y="136.06" width="3.58" height="9.83" fill="#370c47"/>
<rect x="504.49" y="136.06" width="17.49" height="9.83" fill="#360a3b"/>
<rect x="521.18" y="136.06" width="3.58" height="9.83" fill="#381260"/>
<rect x="523.97" y="136.06" width="14.93" height="9.83" fill="#360a3b"/>
<rect x="24.30" y="126.92" width="66.40" height="9.83" fill="#360a3b"/>
<rect x="89.91" y="126.92" width="4.97" height="9.83" fill="#1269fa"/>
<rect x="94.08" y="126.92" width="9.15" height="9.83" fill="#360a3b"/>
<rect x="102.43" y="126.92" width="3.58" height="9.83" fill="#39146c"/>
<rect x="105.21" y="126.92" width="4.97" height="9.83" fill="#360a3b"/>
<rect x="109.39" y="126.92" width="2.19" height="9.83" fill="#3c23a0"/>
<rect x="110.78" y="126.92" width="2.19" height="9.83" fill="#3a1c86"/>
<rect x="112.17" y="126.92" width="3.58" height="9.83" fill="#2355f5"/>
<rect x="114.95" y="126.92" width="7.76" height="9.83" fill="#360a3b"/>
<rect x="121.91" y="126.92" width="3.58" height="9.83" fill="#0973fc"/>
<rect x="124.69" y="126.92" width="7.76" height="9.83" fill="#370c47"/>
<rect x="131.65" y="126.92" width="3.58" height="9.83" fill="#008cfd"/>
<rect x="134.43" y="126.92" width="7.76" height="9.83" fill="#360a3b"/>
<rect x="141.38" y="126.92" width="3.58" height="9.83" fill="#00b1f5"/>
<rect x="144.17" y="126.92" width="7.76" height="9.83" fill="#3a1879"/>
<rect x="151.12" y="126.92" width="3.58" height="9.83" fill="#00d5d3"/>
<rect x="153.90" y="126.92" width="7.76" height="9.83" fill="#3a29ae"/>
<rect x="160.86" y="126.92" width="3.58" height="9.83" fill="#00ddc5"/>
<rect x="163.64" y="126.92" width="7.76" height="9.83" fill="#3730bc"/>
<rect x="170.60" y="126.92" width="3.58" height="9.83" fill="#00d9cc"/>
<rect x="173.38" y="126.92" width="7.76" height="9.83" fill="#3730bc"/>
<rect x="180.34" y="126.92" width="3.58" height="9.83" fill="#00d9cc"/>
<rect x="183.12" y="126.92" width="7.76" height="9.83" fill="#3a1c86"/>
<rect x="190.08" y="126.92" width="3.58" height="9.83" fill="#00e1be"/>
<rect x="192.86" y="126.92" width="2.19" height="9.83" fill="#360a3b"/>
<rect x="194.25" y="126.92" width="6.36" height="9.83" fill="#3b1f93"/>
<rect x="199.81" y="126.92" width="3.58" height="9.83" fill="#007dff"/>
<rect x="202.60" y="126.92" width="2.19" height="9.83" fill="#2d44e1"/>
<rect x="203.99" y="126.92" width="6.36" height="9.83" fill="#3436c9"/>
<rect x="209.55" y="126.92" width="3.58" height="9.83" fill="#00b1f5"/>
<rect x="212.34" y="126.92" width="7.76" height="9.83" fill="#39146c"/>
<rect x="219.29" y="126.92" width="3.58" height="9.83" fill="#00a2fb"/>
<rect x="222.07" y="126.92" width="2.19" height="9.83" fill="#3b1f93"/>
<rect x="223.46" y="126.92" width="2.19" height="9.83" fill="#1269fa"/>
<rect x="224.86" y="126.92" width="4.97" height="9.83" fill="#3b1f93"/>
<rect x="229.03" y="126.92" width="3.58" height="9.83" fill="#0094fc"/>
<rect x="231.81" y="126.92" width="6.36" height="9.83" fill="#370c47"/>
<rect x="237.38" y="126.92" width="2.19" height="9.83" fill="#3730bc"/>
<rect x="238.77" y="126.92" width="3.58" height="9.83" fill="#007dff"/>
<rect x="241.55" y="126.92" width="3.58" height="9.83" fill="#3b1f93"/>
<rect x="244.33" y="126.92" width="2.19" height="9.83" fill="#323cd7"/>
<rect x="245.72" y="126.92" width="3.58" height="9.83" fill="#3b1f93"/>
<rect x="248.51" y="126.92" width="3.58" height="9.83" fill="#0094fc"/>
<rect x="251.29" y="126.92" width="3.58" height="9.83" fill="#3a1c86"/>
<rect x="254.07" y="126.92" width="2.19" height="9.83" fill="#3730bc"/>
<rect x="255.46" y="126.92" width="3.58" height="9.83" fill="#3a1c86"/>
<rect x="258.25" y="126.92" width="3.58" height="9.83" fill="#0084fe"/>
<rect x="261.03" y="126.92" width="7.76" height="9.83" fill="#360a3b"/>
<rect x="267.98" y="126.92" width="3.58" height="9.83" fill="#2d44e1"/>
<rect x="270.77" y="126.92" width="7.76" height="9.83" fill="#360a3b"/>
<rect x="277.72" y="126.92" width="2.19" height="9.83" fill="#3a29ae"/>
<rect x="279.11" y="126.92" width="2.19" height="9.83" fill="#3b1f93"/>
<rect x="280.50" y="126.92" width="7.76" height="9.83" fill="#360a3b"/>
<rect x="287.46" y="126.92" width="3.58" height="9.83" fill="#3a1c86"/>
<rect x="290.24" y="126.92" width="105.14" height="9.83" fill="#360a3b"/>
<rect x="394.58" y="126.92" width="2.19" height="9.83" fill="#3b1f93"/>
<rect x="395.97" y="126.92" width="4.97" height="9.83" fill="#1a5ff8"/>
<rect x="400.15" y="126.92" width="138.75" height="9.83" fill="#360a3b"/>
<rect x="24.30" y="117.79" width="514.59" height="9.83" fill="#360a3b"/>
<rect x="24.30" y="108.66" width="514.59" height="9.83" fill="#360a3b"/>
<rect x="24.30" y="99.52" width="514.59" height="9.83" fill="#360a3b"/>
</g></g>
<path d="M28.30 288.10h-2.8" stroke="#3a3a3a" stroke-width="0.7"/>
<text transform="translate(23.70 291.70) scale(0.0720 0.0842)" font-size="100" fill="#626262" text-anchor="end" stroke="#626262" stroke-width="1.7">0</text>
<path d="M28.30 251.48h-2.8" stroke="#3a3a3a" stroke-width="0.7"/>
<text transform="translate(23.70 255.08) scale(0.0720 0.0842)" font-size="100" fill="#626262" text-anchor="end" stroke="#626262" stroke-width="1.7">4</text>
<path d="M28.30 214.87h-2.8" stroke="#3a3a3a" stroke-width="0.7"/>
<text transform="translate(23.70 218.47) scale(0.0720 0.0842)" font-size="100" fill="#626262" text-anchor="end" stroke="#626262" stroke-width="1.7">8</text>
<path d="M28.30 178.25h-2.8" stroke="#3a3a3a" stroke-width="0.7"/>
<text transform="translate(23.70 181.85) scale(0.0720 0.0842)" font-size="100" fill="#626262" text-anchor="end" stroke="#626262" stroke-width="1.7">12</text>
<path d="M28.30 141.64h-2.8" stroke="#3a3a3a" stroke-width="0.7"/>
<text transform="translate(23.70 145.24) scale(0.0720 0.0842)" font-size="100" fill="#626262" text-anchor="end" stroke="#626262" stroke-width="1.7">16</text>
<path d="M28.30 105.02h-2.8" stroke="#3a3a3a" stroke-width="0.7"/>
<text transform="translate(23.70 108.62) scale(0.0720 0.0842)" font-size="100" fill="#626262" text-anchor="end" stroke="#626262" stroke-width="1.7">20</text>
<path d="M28.30 68.40h-2.8" stroke="#3a3a3a" stroke-width="0.7"/>
<text transform="translate(23.70 72.00) scale(0.0720 0.0842)" font-size="100" fill="#626262" text-anchor="end" stroke="#626262" stroke-width="1.7">24</text>
<text transform="translate(11.80 178.80) rotate(-90) scale(0.0910 0.0883)" font-size="100" fill="#161616" text-anchor="middle" stroke="#161616" stroke-width="2.4">Time</text>
<text transform="translate(35.00 298.90) scale(0.0720 0.0842)" font-size="100" fill="#626262" text-anchor="middle" stroke="#626262" stroke-width="1.7">1</text>
<path d="M71.33 287.90v2.3" stroke="#3a3a3a" stroke-width="0.7"/>
<text transform="translate(78.13 298.90) scale(0.0720 0.0842)" font-size="100" fill="#626262" text-anchor="middle" stroke="#626262" stroke-width="1.7">2</text>
<path d="M110.28 287.90v2.3" stroke="#3a3a3a" stroke-width="0.7"/>
<text transform="translate(117.08 298.90) scale(0.0720 0.0842)" font-size="100" fill="#626262" text-anchor="middle" stroke="#626262" stroke-width="1.7">3</text>
<path d="M153.41 287.90v2.3" stroke="#3a3a3a" stroke-width="0.7"/>
<text transform="translate(160.21 298.90) scale(0.0720 0.0842)" font-size="100" fill="#626262" text-anchor="middle" stroke="#626262" stroke-width="1.7">4</text>
<path d="M195.15 287.90v2.3" stroke="#3a3a3a" stroke-width="0.7"/>
<text transform="translate(201.95 298.90) scale(0.0720 0.0842)" font-size="100" fill="#626262" text-anchor="middle" stroke="#626262" stroke-width="1.7">5</text>
<path d="M238.27 287.90v2.3" stroke="#3a3a3a" stroke-width="0.7"/>
<text transform="translate(245.07 298.90) scale(0.0720 0.0842)" font-size="100" fill="#626262" text-anchor="middle" stroke="#626262" stroke-width="1.7">6</text>
<path d="M280.01 287.90v2.3" stroke="#3a3a3a" stroke-width="0.7"/>
<text transform="translate(286.81 298.90) scale(0.0720 0.0842)" font-size="100" fill="#626262" text-anchor="middle" stroke="#626262" stroke-width="1.7">7</text>
<path d="M323.14 287.90v2.3" stroke="#3a3a3a" stroke-width="0.7"/>
<text transform="translate(329.94 298.90) scale(0.0720 0.0842)" font-size="100" fill="#626262" text-anchor="middle" stroke="#626262" stroke-width="1.7">8</text>
<path d="M366.26 287.90v2.3" stroke="#3a3a3a" stroke-width="0.7"/>
<text transform="translate(373.06 298.90) scale(0.0720 0.0842)" font-size="100" fill="#626262" text-anchor="middle" stroke="#626262" stroke-width="1.7">9</text>
<path d="M408.00 287.90v2.3" stroke="#3a3a3a" stroke-width="0.7"/>
<text transform="translate(422.60 298.90) scale(0.0720 0.0842)" font-size="100" fill="#626262" text-anchor="middle" stroke="#626262" stroke-width="1.7">10</text>
<path d="M451.13 287.90v2.3" stroke="#3a3a3a" stroke-width="0.7"/>
<text transform="translate(465.73 298.90) scale(0.0720 0.0842)" font-size="100" fill="#626262" text-anchor="middle" stroke="#626262" stroke-width="1.7">11</text>
<path d="M492.86 287.90v2.3" stroke="#3a3a3a" stroke-width="0.7"/>
<text transform="translate(507.46 298.90) scale(0.0720 0.0842)" font-size="100" fill="#626262" text-anchor="middle" stroke="#626262" stroke-width="1.7">12</text>
</svg></body></html>
